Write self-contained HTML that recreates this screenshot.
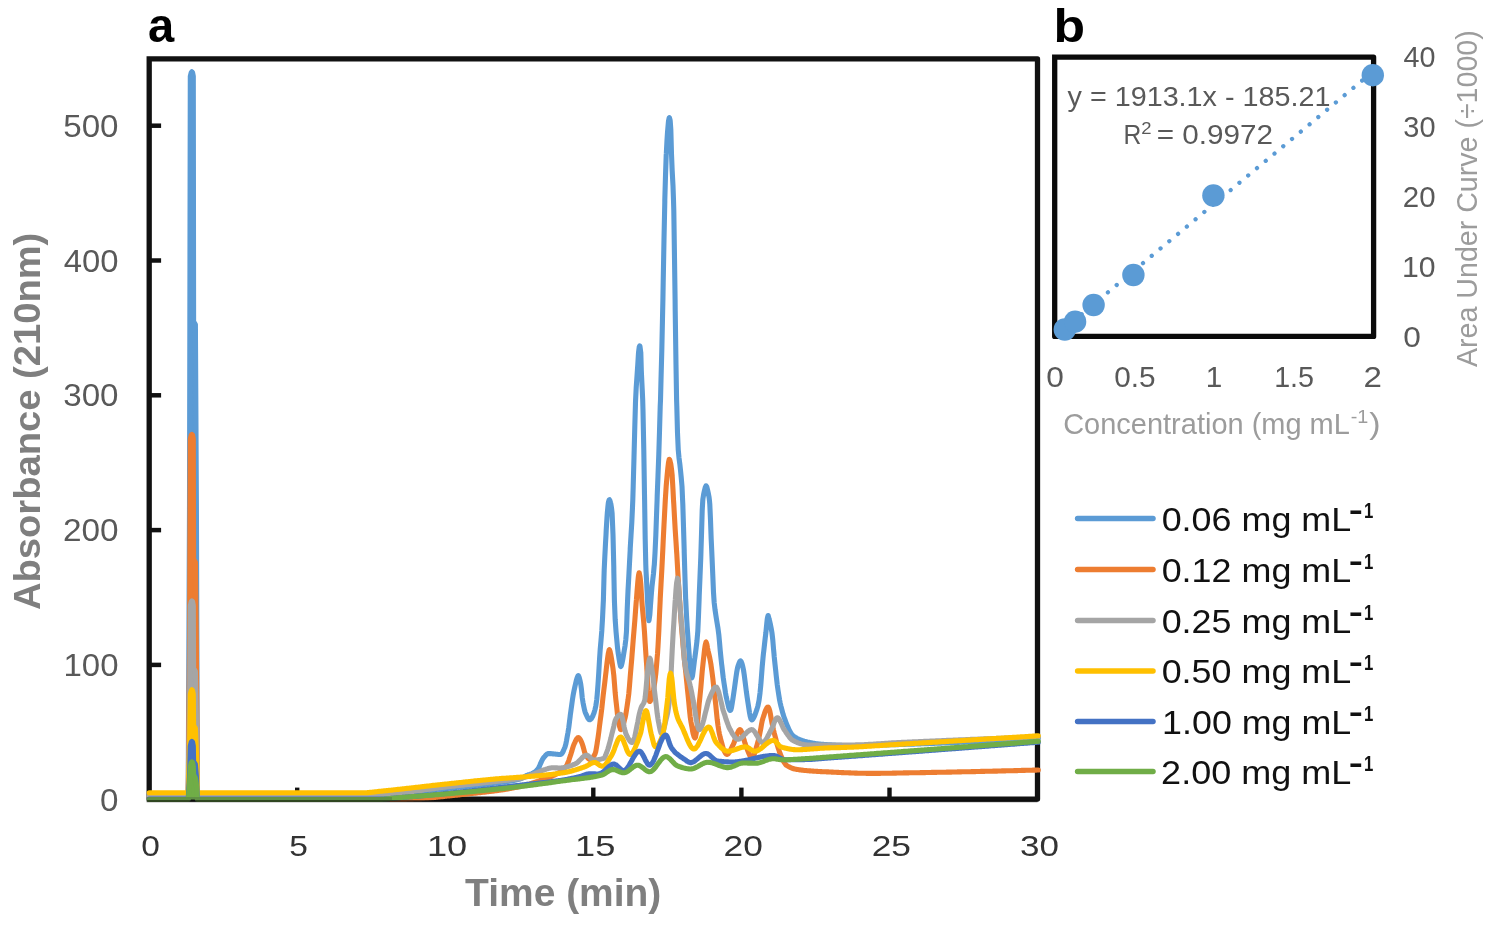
<!DOCTYPE html>
<html lang="en">
<head>
<meta charset="utf-8">
<title>HPLC chromatograms and calibration curve</title>
<style>
html,body{margin:0;padding:0;background:#ffffff;}
body{width:1500px;height:926px;overflow:hidden;font-family:"Liberation Sans",sans-serif;}
svg{display:block;}
svg text,.t{font-family:"Liberation Sans",sans-serif;}
</style>
</head>
<body>
<svg width="1500" height="926" viewBox="0 0 1500 926" role="img" aria-label="HPLC chromatograms at six concentrations with calibration curve inset">
<rect x="0" y="0" width="1500" height="926" fill="#ffffff"/>
<path d="M149.2,58.9 H1037.5 V799.1 H149.2 V58.9" fill="none" stroke="#111111" stroke-width="5.3" stroke-linejoin="round" stroke-linecap="square"/>
<line x1="149.2" y1="664.9" x2="161.1" y2="664.9" stroke="#111111" stroke-width="4.5"/>
<line x1="149.2" y1="530.1" x2="161.1" y2="530.1" stroke="#111111" stroke-width="4.5"/>
<line x1="149.2" y1="395.3" x2="161.1" y2="395.3" stroke="#111111" stroke-width="4.5"/>
<line x1="149.2" y1="260.5" x2="161.1" y2="260.5" stroke="#111111" stroke-width="4.5"/>
<line x1="149.2" y1="125.7" x2="161.1" y2="125.7" stroke="#111111" stroke-width="4.5"/>
<line x1="297.2" y1="799.1" x2="297.2" y2="787.6" stroke="#111111" stroke-width="4.4"/>
<line x1="445.3" y1="799.1" x2="445.3" y2="787.6" stroke="#111111" stroke-width="4.4"/>
<line x1="593.3" y1="799.1" x2="593.3" y2="787.6" stroke="#111111" stroke-width="4.4"/>
<line x1="741.4" y1="799.1" x2="741.4" y2="787.6" stroke="#111111" stroke-width="4.4"/>
<line x1="889.5" y1="799.1" x2="889.5" y2="787.6" stroke="#111111" stroke-width="4.4"/>
<polygon points="188.2,796.0 189.5,506.3 190.3,76.3 191.2,72.6 191.9,71.8 192.6,72.6 193.3,76.3 193.6,321.6 195.4,324.6 196.4,506.3 197.4,796.0" fill="#5B9BD5" stroke="none"/>
<path d="M149.2,796.0 L184.0,796.0 L188.2,796.0 L189.5,506.3 L190.3,76.3 L191.2,72.6 L191.9,71.8 L192.6,72.6 L193.3,76.3 L193.6,321.6 L195.4,324.6 L196.4,506.3 L197.4,796.0 L205.0,796.0 L205.8,796.0 L206.5,796.0 L207.2,796.0 L208.0,796.0 L208.8,796.0 L209.5,796.0 L210.2,796.0 L211.0,796.0 L211.8,796.0 L212.5,796.0 L213.2,796.0 L214.0,796.0 L214.8,796.0 L215.5,796.0 L216.2,796.0 L217.0,796.0 L217.8,796.0 L218.5,796.0 L219.2,796.0 L220.0,796.0 L220.8,796.0 L221.5,796.0 L222.2,796.0 L223.0,796.0 L223.8,796.0 L224.5,796.0 L225.2,796.0 L226.0,796.0 L226.8,796.0 L227.5,796.0 L228.2,796.0 L229.0,796.0 L229.8,796.0 L230.5,796.0 L231.2,796.0 L232.0,796.0 L232.8,796.0 L233.5,796.0 L234.2,796.0 L235.0,796.0 L235.8,796.0 L236.5,796.0 L237.2,796.0 L238.0,796.0 L238.8,796.0 L239.5,796.0 L240.2,796.0 L241.0,796.0 L241.8,796.0 L242.5,796.0 L243.2,796.0 L244.0,796.0 L244.8,796.0 L245.5,796.0 L246.2,796.0 L247.0,796.0 L247.8,796.0 L248.5,796.0 L249.2,796.0 L250.0,796.0 L250.8,796.0 L251.5,796.0 L252.2,796.0 L253.0,796.0 L253.8,796.0 L254.5,796.0 L255.2,796.0 L256.0,796.0 L256.8,796.0 L257.5,796.0 L258.2,796.0 L259.0,796.0 L259.8,796.0 L260.5,796.0 L261.2,796.0 L262.0,796.0 L262.8,796.0 L263.5,796.0 L264.2,796.0 L265.0,796.0 L265.8,796.0 L266.5,796.0 L267.2,796.0 L268.0,796.0 L268.8,796.0 L269.5,796.0 L270.2,796.0 L271.0,796.0 L271.8,796.0 L272.5,796.0 L273.2,796.0 L274.0,796.0 L274.8,796.0 L275.5,796.0 L276.2,796.0 L277.0,796.0 L277.8,796.0 L278.5,796.0 L279.2,796.0 L280.0,796.0 L280.8,796.0 L281.5,796.0 L282.2,796.0 L283.0,796.0 L283.8,796.0 L284.5,796.0 L285.2,796.0 L286.0,796.0 L286.8,796.0 L287.5,796.0 L288.2,796.0 L289.0,796.0 L289.8,796.0 L290.5,796.0 L291.2,796.0 L292.0,796.0 L292.8,796.0 L293.5,796.0 L294.2,796.0 L295.0,796.0 L295.8,796.0 L296.5,796.0 L297.2,796.0 L298.0,796.0 L298.8,796.0 L299.5,796.0 L300.0,796.0 L300.2,796.0 L301.0,796.0 L301.8,796.0 L302.5,796.0 L303.2,796.0 L304.0,796.0 L304.8,796.0 L305.5,796.0 L306.2,796.0 L307.0,796.0 L307.8,796.0 L308.5,796.0 L309.2,796.0 L310.0,796.0 L310.8,796.0 L311.5,796.0 L312.2,796.0 L313.0,796.0 L313.8,796.0 L314.5,795.9 L315.2,795.9 L316.0,795.9 L316.8,795.9 L317.5,795.9 L318.2,795.9 L319.0,795.9 L319.8,795.9 L320.5,795.9 L321.2,795.9 L322.0,795.9 L322.8,795.9 L323.5,795.9 L324.2,795.9 L325.0,795.8 L325.8,795.8 L326.5,795.8 L327.2,795.8 L328.0,795.8 L328.8,795.8 L329.5,795.8 L330.2,795.8 L331.0,795.8 L331.8,795.8 L332.5,795.7 L333.2,795.7 L334.0,795.7 L334.8,795.7 L335.5,795.7 L336.2,795.7 L337.0,795.7 L337.8,795.7 L338.5,795.7 L339.2,795.6 L340.0,795.6 L340.8,795.6 L341.5,795.6 L342.2,795.6 L343.0,795.6 L343.8,795.6 L344.5,795.6 L345.2,795.5 L346.0,795.5 L346.8,795.5 L347.5,795.5 L348.2,795.5 L349.0,795.5 L349.8,795.4 L350.5,795.4 L351.2,795.4 L352.0,795.4 L352.8,795.4 L353.5,795.4 L354.2,795.4 L355.0,795.3 L355.8,795.3 L356.5,795.3 L357.2,795.3 L358.0,795.3 L358.8,795.3 L359.5,795.2 L360.2,795.2 L361.0,795.2 L361.8,795.2 L362.5,795.2 L363.2,795.2 L364.0,795.1 L364.8,795.1 L365.5,795.1 L366.2,795.1 L367.0,795.1 L367.8,795.1 L368.5,795.0 L369.2,795.0 L370.0,795.0 L370.8,795.0 L371.5,795.0 L372.2,794.9 L373.0,794.9 L373.8,794.9 L374.5,794.9 L375.2,794.8 L376.0,794.8 L376.8,794.8 L377.5,794.7 L378.2,794.7 L379.0,794.7 L379.8,794.6 L380.5,794.6 L381.2,794.6 L382.0,794.5 L382.8,794.5 L383.5,794.4 L384.2,794.4 L385.0,794.3 L385.8,794.3 L386.5,794.2 L387.2,794.2 L388.0,794.1 L388.8,794.1 L389.5,794.0 L390.2,794.0 L391.0,793.9 L391.8,793.9 L392.5,793.8 L393.2,793.8 L394.0,793.7 L394.8,793.6 L395.5,793.6 L396.2,793.5 L397.0,793.5 L397.8,793.4 L398.5,793.3 L399.2,793.3 L400.0,793.2 L400.8,793.1 L401.5,793.1 L402.2,793.0 L403.0,792.9 L403.8,792.9 L404.5,792.8 L405.2,792.7 L406.0,792.6 L406.8,792.6 L407.5,792.5 L408.2,792.4 L409.0,792.3 L409.8,792.3 L410.5,792.2 L411.2,792.1 L412.0,792.0 L412.8,792.0 L413.5,791.9 L414.2,791.8 L415.0,791.7 L415.8,791.6 L416.5,791.6 L417.2,791.5 L418.0,791.4 L418.8,791.3 L419.5,791.3 L420.2,791.2 L421.0,791.1 L421.8,791.0 L422.5,790.9 L423.2,790.8 L424.0,790.8 L424.8,790.7 L425.5,790.6 L426.2,790.5 L427.0,790.4 L427.8,790.4 L428.5,790.3 L429.2,790.2 L430.0,790.1 L430.8,790.0 L431.5,789.9 L432.2,789.9 L433.0,789.8 L433.8,789.7 L434.5,789.6 L435.2,789.5 L436.0,789.5 L436.8,789.4 L437.5,789.3 L438.2,789.2 L439.0,789.1 L439.8,789.1 L440.5,789.0 L441.2,788.9 L442.0,788.8 L442.8,788.7 L443.5,788.7 L444.2,788.6 L445.0,788.5 L445.8,788.4 L446.5,788.4 L447.2,788.3 L448.0,788.2 L448.8,788.1 L449.5,788.0 L450.0,788.0 L450.2,788.0 L451.0,787.9 L451.8,787.8 L452.5,787.8 L453.2,787.7 L454.0,787.6 L454.8,787.5 L455.5,787.5 L456.2,787.4 L457.0,787.3 L457.8,787.2 L458.5,787.2 L459.2,787.1 L460.0,787.0 L460.8,786.9 L461.5,786.9 L462.2,786.8 L463.0,786.7 L463.8,786.7 L464.5,786.6 L465.2,786.5 L466.0,786.4 L466.8,786.4 L467.5,786.3 L468.2,786.2 L469.0,786.1 L469.8,786.1 L470.5,786.0 L471.2,785.9 L472.0,785.8 L472.8,785.7 L473.5,785.7 L474.2,785.6 L475.0,785.5 L475.8,785.4 L476.5,785.3 L477.2,785.3 L478.0,785.2 L478.8,785.1 L479.5,785.0 L480.2,784.9 L481.0,784.9 L481.8,784.8 L482.5,784.7 L483.2,784.6 L484.0,784.5 L484.8,784.4 L485.5,784.3 L486.2,784.3 L487.0,784.2 L487.8,784.1 L488.5,784.0 L489.2,783.9 L490.0,783.8 L490.8,783.7 L491.5,783.6 L492.2,783.5 L493.0,783.4 L493.8,783.3 L494.5,783.2 L495.2,783.1 L496.0,783.0 L496.8,782.9 L497.5,782.8 L498.2,782.7 L499.0,782.6 L499.8,782.5 L500.0,782.5 L500.5,782.4 L501.2,782.3 L502.0,782.2 L502.8,782.1 L503.5,782.0 L504.2,781.9 L505.0,781.8 L505.8,781.7 L506.5,781.6 L507.2,781.5 L508.0,781.4 L508.8,781.3 L509.5,781.2 L510.2,781.1 L511.0,781.0 L511.8,780.8 L512.5,780.7 L513.2,780.6 L514.0,780.4 L514.8,780.3 L515.5,780.1 L516.2,780.0 L517.0,779.8 L517.8,779.6 L518.5,779.4 L519.2,779.2 L520.0,779.0 L520.8,778.7 L521.5,778.4 L522.2,778.0 L523.0,777.6 L523.8,777.1 L524.5,776.6 L525.2,776.2 L526.0,775.8 L526.8,775.4 L527.0,775.3 L527.5,775.1 L528.2,774.8 L529.0,774.6 L529.8,774.4 L530.5,774.1 L531.2,773.9 L532.0,773.6 L532.4,773.4 L532.8,773.2 L533.5,772.8 L534.2,772.3 L535.0,771.8 L535.8,771.2 L536.5,770.5 L537.2,769.7 L537.8,769.1 L538.0,768.9 L538.8,767.6 L539.5,766.1 L540.2,764.4 L541.0,762.6 L541.8,760.8 L542.5,759.4 L543.2,758.3 L543.2,758.2 L544.0,757.3 L544.8,756.4 L545.5,755.5 L546.2,754.7 L547.0,754.1 L547.8,753.7 L548.5,753.5 L548.6,753.5 L549.2,753.5 L550.0,753.6 L550.8,753.6 L551.5,753.7 L552.2,753.8 L553.0,753.9 L553.8,754.0 L554.0,754.0 L554.5,754.0 L555.2,754.1 L556.0,754.2 L556.8,754.3 L557.5,754.3 L558.2,754.4 L559.0,754.5 L559.8,754.5 L560.5,754.5 L561.2,754.2 L562.0,753.4 L562.8,752.1 L563.5,750.6 L564.2,748.9 L564.8,747.5 L565.0,747.0 L565.8,744.3 L566.5,740.8 L567.2,736.7 L568.0,732.4 L568.8,727.4 L569.5,721.6 L570.2,716.2 L570.2,715.8 L571.0,710.1 L571.8,704.4 L572.4,700.0 L572.5,699.4 L573.2,694.9 L574.0,690.8 L574.8,687.1 L575.5,684.0 L576.2,681.0 L577.0,678.1 L577.8,676.1 L578.3,675.6 L578.5,675.7 L579.2,677.4 L580.0,680.6 L580.8,684.6 L581.0,686.0 L581.5,689.9 L582.2,697.3 L582.6,700.0 L583.0,702.4 L583.8,706.4 L584.5,709.8 L585.2,712.3 L585.5,713.0 L586.0,714.2 L586.8,715.9 L587.5,717.4 L588.2,718.6 L589.0,719.5 L589.8,719.8 L589.8,719.8 L590.5,719.5 L591.2,718.8 L592.0,717.5 L592.8,716.0 L593.5,714.2 L594.0,713.0 L594.2,712.3 L595.0,709.6 L595.8,706.0 L596.5,701.4 L596.7,700.0 L597.2,694.8 L598.0,684.4 L598.8,672.1 L599.5,659.8 L599.9,654.0 L600.2,649.5 L601.0,640.5 L601.8,630.7 L602.0,627.0 L602.5,618.9 L603.2,603.8 L603.4,600.0 L604.0,576.7 L604.2,570.0 L604.8,557.1 L605.5,543.4 L606.0,534.8 L606.2,530.3 L607.0,517.4 L607.3,513.2 L607.8,507.7 L608.3,503.0 L608.5,502.1 L609.2,499.8 L609.4,499.7 L610.0,500.8 L610.6,503.0 L610.8,503.6 L611.5,507.8 L612.1,513.2 L612.2,515.3 L613.0,534.8 L613.8,567.6 L613.8,570.0 L614.4,600.0 L614.5,602.9 L615.2,619.8 L616.0,631.1 L616.1,632.4 L616.8,640.1 L617.5,647.4 L618.2,653.3 L618.5,655.0 L619.0,658.4 L619.8,663.2 L620.5,666.2 L620.8,666.5 L621.2,666.0 L622.0,663.3 L622.8,659.3 L623.5,655.0 L624.2,650.9 L625.0,646.1 L625.8,639.8 L626.4,632.4 L626.5,630.8 L627.2,609.7 L627.6,600.0 L628.0,591.2 L628.8,576.6 L629.5,563.0 L630.2,550.0 L630.2,549.0 L631.0,535.6 L631.8,522.3 L632.5,507.1 L632.8,500.0 L633.2,486.5 L634.0,457.4 L634.8,426.7 L635.5,402.3 L635.6,400.0 L636.2,387.7 L637.0,376.3 L637.4,370.2 L637.8,364.3 L638.5,352.9 L638.6,352.0 L639.2,347.2 L639.7,345.8 L640.0,346.5 L640.7,352.0 L640.8,352.7 L641.3,370.2 L641.5,374.9 L642.2,389.1 L642.7,400.0 L643.0,410.9 L643.8,450.2 L644.5,494.5 L644.6,500.0 L645.2,539.0 L645.8,565.0 L646.0,570.5 L646.8,585.4 L646.8,586.4 L647.5,600.0 L648.2,614.2 L648.9,620.6 L649.0,620.5 L649.8,615.0 L650.5,605.0 L650.9,600.0 L651.2,595.7 L652.0,586.4 L652.8,579.5 L653.5,573.5 L654.2,565.6 L654.3,565.0 L655.0,553.1 L655.8,535.8 L656.5,516.0 L657.1,500.0 L657.2,496.1 L658.0,475.8 L658.8,454.4 L659.5,431.5 L660.2,406.9 L660.5,400.0 L661.0,380.1 L661.8,350.4 L662.5,318.2 L662.9,300.0 L663.2,282.3 L664.0,239.5 L664.8,202.0 L664.8,200.0 L665.5,175.6 L666.2,155.1 L666.3,154.0 L667.0,140.2 L667.5,132.4 L667.8,128.9 L668.5,121.0 L669.2,117.7 L669.4,117.6 L670.0,119.7 L670.2,121.0 L670.8,129.1 L670.9,132.4 L671.5,154.0 L672.2,171.1 L673.0,185.9 L673.5,200.0 L673.8,210.5 L674.5,258.0 L675.1,300.0 L675.2,310.1 L676.0,365.0 L676.6,400.0 L676.8,406.2 L677.5,432.8 L678.2,448.6 L678.2,449.3 L679.0,457.8 L679.8,463.8 L680.5,470.2 L681.2,477.3 L682.0,486.4 L682.6,500.0 L682.8,504.0 L683.5,526.9 L684.2,550.0 L684.2,551.6 L685.0,578.6 L685.7,600.0 L685.8,601.1 L686.5,615.5 L687.2,627.2 L687.6,632.4 L688.0,638.5 L688.8,649.6 L689.5,658.9 L689.6,660.0 L690.2,667.1 L691.0,674.5 L691.8,678.0 L691.8,678.0 L692.5,676.0 L693.2,670.7 L694.0,664.1 L694.5,660.0 L694.8,658.2 L695.5,652.9 L696.2,647.4 L697.0,640.6 L697.7,632.4 L697.8,631.7 L698.5,615.6 L699.1,600.0 L699.2,596.3 L700.0,576.9 L700.8,556.8 L701.0,550.0 L701.5,534.4 L702.2,510.5 L702.8,500.0 L703.0,498.3 L703.8,493.5 L704.5,490.4 L704.6,490.0 L705.2,487.5 L706.0,485.8 L706.1,485.8 L706.8,486.9 L707.5,489.6 L707.6,490.0 L708.2,492.7 L709.0,496.9 L709.4,500.0 L709.8,504.3 L710.5,520.0 L711.2,539.3 L711.7,550.0 L712.0,556.9 L712.8,575.5 L713.5,592.3 L714.0,600.0 L714.2,602.7 L715.0,609.5 L715.8,614.8 L716.5,619.3 L717.2,623.6 L718.0,628.5 L718.5,632.4 L718.8,634.6 L719.5,642.1 L720.2,650.3 L721.0,658.3 L721.7,664.8 L721.8,665.2 L722.5,671.4 L723.2,677.4 L724.0,683.0 L724.8,688.2 L725.5,692.9 L726.2,696.9 L726.5,698.0 L727.0,700.3 L727.8,703.6 L728.5,706.7 L729.2,709.1 L730.0,710.4 L730.3,710.5 L730.8,710.0 L731.5,707.5 L732.2,703.4 L733.0,698.3 L733.8,692.9 L734.5,688.0 L735.2,682.8 L736.0,677.0 L736.8,671.7 L737.5,668.0 L738.2,665.5 L739.0,663.3 L739.8,661.6 L740.5,660.9 L740.6,660.9 L741.2,661.6 L742.0,663.7 L742.8,666.7 L743.5,670.0 L744.2,674.6 L745.0,680.8 L745.8,687.2 L746.4,692.0 L746.5,692.6 L747.2,697.6 L748.0,702.9 L748.8,708.0 L749.5,712.6 L750.2,716.3 L751.0,718.9 L751.8,719.9 L751.8,719.9 L752.5,719.6 L753.2,718.6 L754.0,717.1 L754.8,715.3 L755.5,713.3 L756.0,712.0 L756.2,711.3 L757.0,709.1 L757.8,706.4 L758.5,703.1 L759.1,700.0 L759.2,699.1 L760.0,693.1 L760.8,685.1 L761.5,676.0 L762.2,666.7 L763.0,658.0 L763.4,654.0 L763.8,650.8 L764.5,644.4 L765.2,638.1 L765.9,632.4 L766.0,631.4 L766.8,623.3 L767.2,619.5 L767.5,617.7 L768.1,615.5 L768.2,615.6 L769.0,618.6 L769.2,619.5 L769.8,621.7 L770.5,624.9 L771.2,628.5 L771.9,632.4 L772.0,633.1 L772.8,640.1 L773.5,648.6 L774.0,654.0 L774.2,656.5 L775.0,664.2 L775.8,671.6 L776.2,675.6 L776.5,678.1 L777.2,684.3 L778.0,690.0 L778.8,695.2 L779.5,699.5 L779.6,700.0 L780.2,703.0 L781.0,706.3 L781.8,709.3 L782.5,712.1 L783.2,714.7 L784.0,717.0 L784.8,719.2 L785.5,721.2 L786.2,723.1 L786.4,723.5 L787.0,724.9 L787.8,726.7 L788.5,728.4 L789.2,730.0 L790.0,731.4 L790.8,732.8 L791.5,733.9 L792.2,734.9 L792.9,735.5 L793.0,735.6 L793.8,736.2 L794.5,736.7 L795.2,737.3 L796.0,737.7 L796.8,738.2 L797.5,738.6 L798.2,739.0 L799.0,739.3 L799.8,739.7 L800.5,740.0 L801.2,740.2 L802.0,740.5 L802.8,740.7 L803.5,740.9 L803.7,741.0 L804.2,741.2 L805.0,741.4 L805.8,741.6 L806.5,741.7 L807.2,741.9 L808.0,742.1 L808.8,742.3 L809.5,742.5 L810.2,742.6 L811.0,742.8 L811.8,742.9 L812.5,743.1 L813.2,743.2 L814.0,743.3 L814.8,743.5 L815.5,743.6 L816.2,743.7 L817.0,743.8 L817.8,743.9 L818.5,744.0 L819.2,744.0 L820.0,744.1 L820.8,744.2 L821.0,744.2 L821.5,744.2 L822.2,744.3 L823.0,744.4 L823.8,744.4 L824.5,744.5 L825.2,744.5 L826.0,744.6 L826.8,744.6 L827.5,744.7 L828.2,744.7 L829.0,744.8 L829.8,744.8 L830.5,744.9 L831.2,744.9 L832.0,745.0 L832.8,745.0 L833.5,745.1 L834.2,745.1 L835.0,745.1 L835.8,745.2 L836.5,745.2 L837.2,745.3 L838.0,745.3 L838.8,745.3 L839.5,745.4 L840.2,745.4 L841.0,745.4 L841.8,745.4 L842.5,745.5 L843.2,745.5 L844.0,745.5 L844.8,745.5 L845.5,745.5 L846.2,745.6 L847.0,745.6 L847.8,745.6 L848.5,745.6 L849.2,745.6 L850.0,745.6 L850.8,745.6 L851.0,745.6 L851.5,745.6 L852.2,745.6 L853.0,745.6 L853.8,745.6 L854.5,745.6 L855.2,745.6 L856.0,745.6 L856.8,745.6 L857.5,745.6 L858.2,745.6 L859.0,745.6 L859.8,745.5 L860.5,745.5 L861.2,745.5 L862.0,745.5 L862.8,745.5 L863.5,745.5 L864.2,745.5 L865.0,745.5 L865.8,745.5 L866.5,745.4 L867.2,745.4 L868.0,745.4 L868.8,745.4 L869.5,745.4 L870.2,745.4 L871.0,745.3 L871.8,745.3 L872.5,745.3 L873.2,745.3 L874.0,745.3 L874.8,745.2 L875.5,745.2 L876.2,745.2 L877.0,745.2 L877.8,745.2 L878.5,745.1 L879.2,745.1 L880.0,745.1 L880.8,745.1 L881.5,745.1 L882.2,745.0 L883.0,745.0 L883.8,745.0 L884.5,745.0 L885.2,744.9 L886.0,744.9 L886.8,744.9 L887.5,744.9 L888.2,744.9 L889.0,744.8 L889.8,744.8 L890.5,744.8 L891.2,744.8 L892.0,744.7 L892.8,744.7 L893.5,744.7 L894.2,744.7 L895.0,744.6 L895.8,744.6 L896.5,744.6 L897.2,744.6 L898.0,744.6 L898.8,744.5 L899.5,744.5 L900.0,744.5 L900.2,744.5 L901.0,744.5 L901.8,744.4 L902.5,744.4 L903.2,744.4 L904.0,744.4 L904.8,744.4 L905.5,744.3 L906.2,744.3 L907.0,744.3 L907.8,744.3 L908.5,744.2 L909.2,744.2 L910.0,744.2 L910.8,744.2 L911.5,744.2 L912.2,744.1 L913.0,744.1 L913.8,744.1 L914.5,744.1 L915.2,744.0 L916.0,744.0 L916.8,744.0 L917.5,744.0 L918.2,743.9 L919.0,743.9 L919.8,743.9 L920.5,743.9 L921.2,743.8 L922.0,743.8 L922.8,743.8 L923.5,743.8 L924.2,743.7 L925.0,743.7 L925.8,743.7 L926.5,743.6 L927.2,743.6 L928.0,743.6 L928.8,743.6 L929.5,743.5 L930.2,743.5 L931.0,743.5 L931.8,743.5 L932.5,743.4 L933.2,743.4 L934.0,743.4 L934.8,743.3 L935.5,743.3 L936.2,743.3 L937.0,743.3 L937.8,743.2 L938.5,743.2 L939.2,743.2 L940.0,743.1 L940.8,743.1 L941.5,743.1 L942.2,743.0 L943.0,743.0 L943.8,743.0 L944.5,743.0 L945.2,742.9 L946.0,742.9 L946.8,742.9 L947.5,742.8 L948.2,742.8 L949.0,742.8 L949.8,742.7 L950.5,742.7 L951.2,742.7 L952.0,742.6 L952.8,742.6 L953.5,742.6 L954.2,742.6 L955.0,742.5 L955.8,742.5 L956.5,742.5 L957.2,742.4 L958.0,742.4 L958.8,742.4 L959.5,742.3 L960.2,742.3 L961.0,742.3 L961.8,742.2 L962.5,742.2 L963.2,742.2 L964.0,742.1 L964.8,742.1 L965.5,742.0 L966.2,742.0 L967.0,742.0 L967.8,741.9 L968.5,741.9 L969.2,741.9 L970.0,741.8 L970.8,741.8 L971.5,741.8 L972.2,741.7 L973.0,741.7 L973.8,741.7 L974.5,741.6 L975.2,741.6 L976.0,741.6 L976.8,741.5 L977.5,741.5 L978.2,741.4 L979.0,741.4 L979.8,741.4 L980.5,741.3 L981.2,741.3 L982.0,741.3 L982.8,741.2 L983.5,741.2 L984.2,741.1 L985.0,741.1 L985.8,741.1 L986.5,741.0 L987.2,741.0 L988.0,740.9 L988.8,740.9 L989.5,740.9 L990.2,740.8 L991.0,740.8 L991.8,740.7 L992.5,740.7 L993.2,740.7 L994.0,740.6 L994.8,740.6 L995.5,740.5 L996.2,740.5 L997.0,740.5 L997.8,740.4 L998.5,740.4 L999.2,740.3 L1000.0,740.3 L1000.8,740.3 L1001.5,740.2 L1002.2,740.2 L1003.0,740.1 L1003.8,740.1 L1004.5,740.1 L1005.2,740.0 L1006.0,740.0 L1006.8,739.9 L1007.5,739.9 L1008.2,739.8 L1009.0,739.8 L1009.8,739.8 L1010.5,739.7 L1011.2,739.7 L1012.0,739.6 L1012.8,739.6 L1013.5,739.5 L1014.2,739.5 L1015.0,739.4 L1015.8,739.4 L1016.5,739.4 L1017.2,739.3 L1018.0,739.3 L1018.8,739.2 L1019.5,739.2 L1020.2,739.1 L1021.0,739.1 L1021.8,739.0 L1022.5,739.0 L1023.2,739.0 L1024.0,738.9 L1024.8,738.9 L1025.5,738.8 L1026.2,738.8 L1027.0,738.7 L1027.8,738.7 L1028.5,738.6 L1029.2,738.6 L1030.0,738.5 L1030.8,738.5 L1031.5,738.4 L1032.2,738.4 L1033.0,738.3 L1033.8,738.3 L1034.5,738.2 L1035.2,738.2 L1036.0,738.1 L1036.8,738.1 L1037.5,738.1 L1038.2,738.0 L1038.3,738.0" fill="none" stroke="#5B9BD5" stroke-width="5.1" stroke-linejoin="round" stroke-linecap="round"/>
<polygon points="188.2,796.5 189.5,651.7 190.3,439.0 191.2,435.3 191.9,434.5 192.6,435.3 193.3,439.0 193.6,559.4 195.4,562.4 196.4,651.7 197.4,796.5" fill="#ED7D31" stroke="none"/>
<path d="M149.2,796.5 L184.0,796.5 L188.2,796.5 L189.5,651.7 L190.3,439.0 L191.2,435.3 L191.9,434.5 L192.6,435.3 L193.3,439.0 L193.6,559.4 L195.4,562.4 L196.4,651.7 L197.4,796.5 L205.0,796.5 L205.8,796.5 L206.5,796.5 L207.2,796.5 L208.0,796.5 L208.8,796.5 L209.5,796.5 L210.2,796.5 L211.0,796.5 L211.8,796.5 L212.5,796.5 L213.2,796.5 L214.0,796.5 L214.8,796.5 L215.5,796.5 L216.2,796.5 L217.0,796.5 L217.8,796.5 L218.5,796.5 L219.2,796.5 L220.0,796.5 L220.8,796.5 L221.5,796.5 L222.2,796.5 L223.0,796.5 L223.8,796.5 L224.5,796.5 L225.2,796.5 L226.0,796.5 L226.8,796.5 L227.5,796.5 L228.2,796.5 L229.0,796.5 L229.8,796.5 L230.5,796.5 L231.2,796.5 L232.0,796.5 L232.8,796.5 L233.5,796.5 L234.2,796.5 L235.0,796.5 L235.8,796.5 L236.5,796.5 L237.2,796.5 L238.0,796.5 L238.8,796.5 L239.5,796.5 L240.2,796.5 L241.0,796.5 L241.8,796.5 L242.5,796.5 L243.2,796.5 L244.0,796.5 L244.8,796.5 L245.5,796.5 L246.2,796.5 L247.0,796.5 L247.8,796.5 L248.5,796.5 L249.2,796.5 L250.0,796.5 L250.8,796.5 L251.5,796.5 L252.2,796.5 L253.0,796.5 L253.8,796.5 L254.5,796.5 L255.2,796.5 L256.0,796.5 L256.8,796.5 L257.5,796.5 L258.2,796.5 L259.0,796.5 L259.8,796.5 L260.5,796.5 L261.2,796.5 L262.0,796.5 L262.8,796.5 L263.5,796.5 L264.2,796.5 L265.0,796.5 L265.8,796.5 L266.5,796.5 L267.2,796.5 L268.0,796.5 L268.8,796.5 L269.5,796.5 L270.2,796.5 L271.0,796.5 L271.8,796.5 L272.5,796.5 L273.2,796.5 L274.0,796.5 L274.8,796.5 L275.5,796.5 L276.2,796.5 L277.0,796.5 L277.8,796.5 L278.5,796.5 L279.2,796.5 L280.0,796.5 L280.8,796.5 L281.5,796.5 L282.2,796.5 L283.0,796.5 L283.8,796.5 L284.5,796.5 L285.2,796.5 L286.0,796.5 L286.8,796.5 L287.5,796.5 L288.2,796.5 L289.0,796.5 L289.8,796.5 L290.5,796.5 L291.2,796.5 L292.0,796.5 L292.8,796.5 L293.5,796.5 L294.2,796.5 L295.0,796.5 L295.8,796.5 L296.5,796.5 L297.2,796.5 L298.0,796.5 L298.8,796.5 L299.5,796.5 L300.0,796.5 L300.2,796.5 L301.0,796.5 L301.8,796.5 L302.5,796.5 L303.2,796.5 L304.0,796.5 L304.8,796.5 L305.5,796.5 L306.2,796.5 L307.0,796.5 L307.8,796.5 L308.5,796.5 L309.2,796.5 L310.0,796.5 L310.8,796.5 L311.5,796.5 L312.2,796.5 L313.0,796.5 L313.8,796.5 L314.5,796.5 L315.2,796.6 L316.0,796.6 L316.8,796.6 L317.5,796.6 L318.2,796.6 L319.0,796.6 L319.8,796.6 L320.5,796.6 L321.2,796.6 L322.0,796.6 L322.8,796.6 L323.5,796.6 L324.2,796.6 L325.0,796.6 L325.8,796.6 L326.5,796.7 L327.2,796.7 L328.0,796.7 L328.8,796.7 L329.5,796.7 L330.2,796.7 L331.0,796.7 L331.8,796.7 L332.5,796.7 L333.2,796.7 L334.0,796.8 L334.8,796.8 L335.5,796.8 L336.2,796.8 L337.0,796.8 L337.8,796.8 L338.5,796.8 L339.2,796.8 L340.0,796.8 L340.8,796.9 L341.5,796.9 L342.2,796.9 L343.0,796.9 L343.8,796.9 L344.5,796.9 L345.2,796.9 L346.0,797.0 L346.8,797.0 L347.5,797.0 L348.2,797.0 L349.0,797.0 L349.8,797.0 L350.5,797.0 L351.2,797.1 L352.0,797.1 L352.8,797.1 L353.5,797.1 L354.2,797.1 L355.0,797.1 L355.8,797.2 L356.5,797.2 L357.2,797.2 L358.0,797.2 L358.8,797.2 L359.5,797.2 L360.2,797.3 L361.0,797.3 L361.8,797.3 L362.5,797.3 L363.2,797.3 L364.0,797.3 L364.8,797.4 L365.5,797.4 L366.2,797.4 L367.0,797.4 L367.8,797.4 L368.5,797.5 L369.2,797.5 L370.0,797.5 L370.8,797.5 L371.5,797.6 L372.2,797.6 L373.0,797.6 L373.8,797.7 L374.5,797.7 L375.2,797.8 L376.0,797.8 L376.8,797.9 L377.5,798.0 L378.2,798.0 L379.0,798.1 L379.8,798.2 L380.5,798.2 L381.2,798.3 L382.0,798.4 L382.8,798.5 L383.5,798.5 L384.2,798.6 L385.0,798.7 L385.8,798.7 L386.5,798.8 L387.2,798.9 L388.0,798.9 L388.8,799.0 L389.5,799.0 L390.2,799.1 L391.0,799.1 L391.8,799.1 L392.5,799.2 L393.2,799.2 L394.0,799.2 L394.8,799.2 L395.0,799.2 L395.5,799.2 L396.2,799.2 L397.0,799.2 L397.8,799.2 L398.5,799.2 L399.2,799.2 L400.0,799.2 L400.8,799.2 L401.5,799.1 L402.2,799.1 L403.0,799.1 L403.8,799.1 L404.5,799.1 L405.2,799.1 L406.0,799.1 L406.8,799.0 L407.5,799.0 L408.2,799.0 L409.0,799.0 L409.8,799.0 L410.5,798.9 L411.2,798.9 L412.0,798.9 L412.8,798.9 L413.5,798.8 L414.2,798.8 L415.0,798.8 L415.8,798.8 L416.5,798.7 L417.2,798.7 L418.0,798.7 L418.8,798.6 L419.5,798.6 L420.0,798.6 L420.2,798.6 L421.0,798.6 L421.8,798.5 L422.5,798.5 L423.2,798.4 L424.0,798.4 L424.8,798.3 L425.5,798.3 L426.2,798.2 L427.0,798.2 L427.8,798.1 L428.5,798.1 L429.2,798.0 L430.0,797.9 L430.8,797.9 L431.5,797.8 L432.2,797.7 L433.0,797.6 L433.8,797.6 L434.5,797.5 L435.2,797.4 L436.0,797.3 L436.8,797.2 L437.5,797.2 L438.2,797.1 L439.0,797.0 L439.8,796.9 L440.5,796.8 L441.2,796.7 L442.0,796.7 L442.8,796.6 L443.5,796.5 L444.2,796.4 L445.0,796.3 L445.8,796.2 L446.5,796.2 L447.2,796.1 L448.0,796.0 L448.8,795.9 L449.5,795.9 L450.0,795.8 L450.2,795.8 L451.0,795.7 L451.8,795.6 L452.5,795.5 L453.2,795.5 L454.0,795.4 L454.8,795.3 L455.5,795.2 L456.2,795.2 L457.0,795.1 L457.8,795.0 L458.5,794.9 L459.2,794.9 L460.0,794.8 L460.8,794.7 L461.5,794.6 L462.2,794.5 L463.0,794.5 L463.8,794.4 L464.5,794.3 L465.2,794.2 L466.0,794.1 L466.8,794.1 L467.5,794.0 L468.2,793.9 L469.0,793.8 L469.8,793.7 L470.5,793.7 L471.2,793.6 L472.0,793.5 L472.8,793.4 L473.5,793.3 L474.2,793.2 L475.0,793.2 L475.8,793.1 L476.5,793.0 L477.2,792.9 L478.0,792.8 L478.8,792.7 L479.5,792.7 L480.0,792.6 L480.2,792.6 L481.0,792.5 L481.8,792.4 L482.5,792.3 L483.2,792.2 L484.0,792.2 L484.8,792.1 L485.5,792.0 L486.2,791.9 L487.0,791.8 L487.8,791.7 L488.5,791.7 L489.2,791.6 L490.0,791.5 L490.8,791.4 L491.5,791.3 L492.2,791.2 L493.0,791.1 L493.8,791.0 L494.5,790.9 L495.2,790.8 L496.0,790.7 L496.8,790.7 L497.5,790.6 L498.2,790.4 L499.0,790.3 L499.8,790.2 L500.0,790.2 L500.5,790.1 L501.2,790.0 L502.0,789.9 L502.8,789.8 L503.5,789.7 L504.2,789.5 L505.0,789.4 L505.8,789.3 L506.5,789.2 L507.2,789.0 L508.0,788.9 L508.8,788.8 L509.5,788.6 L510.2,788.5 L511.0,788.4 L511.8,788.2 L512.5,788.1 L513.2,787.9 L514.0,787.8 L514.8,787.6 L515.5,787.5 L516.2,787.3 L517.0,787.2 L517.8,787.0 L518.5,786.8 L519.2,786.7 L520.0,786.5 L520.8,786.3 L521.5,786.1 L522.2,786.0 L523.0,785.8 L523.8,785.6 L524.5,785.4 L525.2,785.2 L526.0,785.0 L526.8,784.8 L527.5,784.5 L528.2,784.3 L529.0,784.1 L529.8,783.9 L530.5,783.7 L531.2,783.4 L532.0,783.2 L532.8,782.9 L533.5,782.7 L534.2,782.5 L535.0,782.2 L535.8,782.0 L536.5,781.7 L537.2,781.5 L538.0,781.2 L538.8,780.9 L539.5,780.7 L540.0,780.5 L540.2,780.4 L541.0,780.2 L541.8,779.9 L542.5,779.6 L543.2,779.4 L544.0,779.1 L544.8,778.9 L545.5,778.6 L546.2,778.4 L547.0,778.1 L547.8,777.8 L548.5,777.5 L549.2,777.3 L550.0,777.0 L550.8,776.7 L551.5,776.4 L552.2,776.1 L553.0,775.7 L553.8,775.4 L554.5,775.1 L555.2,774.7 L556.0,774.3 L556.8,773.9 L557.5,773.5 L558.2,773.1 L559.0,772.6 L559.8,772.2 L560.0,772.0 L560.5,771.7 L561.2,771.1 L562.0,770.6 L562.8,769.9 L563.5,769.2 L564.2,768.4 L565.0,767.6 L565.8,766.6 L566.5,765.6 L567.0,764.8 L567.2,764.4 L568.0,762.7 L568.8,760.6 L569.5,758.3 L570.2,756.2 L570.2,756.1 L571.0,753.8 L571.8,751.3 L572.5,748.7 L573.2,746.4 L574.0,744.3 L574.5,743.2 L574.8,742.7 L575.5,741.1 L576.2,739.7 L577.0,738.5 L577.8,737.7 L578.3,737.5 L578.5,737.5 L579.2,738.1 L580.0,739.1 L580.8,740.5 L581.5,742.1 L582.0,743.2 L582.2,743.8 L583.0,746.2 L583.8,749.1 L584.5,751.9 L585.2,753.9 L585.3,754.0 L586.0,755.2 L586.8,756.5 L587.5,757.6 L588.2,758.5 L589.0,759.2 L589.8,759.5 L590.0,759.5 L590.5,759.4 L591.2,759.1 L592.0,758.5 L592.8,757.7 L593.5,756.6 L594.2,755.4 L595.0,754.0 L595.8,751.4 L596.5,747.4 L597.2,743.2 L597.2,742.9 L598.0,737.8 L598.8,732.0 L599.4,727.0 L599.5,726.2 L600.2,720.6 L601.0,714.9 L601.5,710.8 L601.8,708.6 L602.5,701.8 L602.7,700.0 L603.2,695.2 L604.0,688.7 L604.8,682.3 L605.5,676.0 L606.2,670.2 L606.2,669.8 L607.0,663.1 L607.8,656.8 L608.2,654.0 L608.5,652.5 L609.2,649.7 L609.4,649.6 L610.0,651.1 L610.6,654.0 L610.8,654.7 L611.5,658.6 L612.2,663.2 L613.0,668.6 L613.2,670.2 L613.8,675.3 L614.5,684.0 L615.2,693.1 L615.9,700.0 L616.0,700.9 L616.8,708.0 L617.5,714.7 L618.2,720.1 L618.6,722.0 L619.0,723.9 L619.8,727.3 L620.5,729.4 L620.8,729.6 L621.2,729.4 L622.0,728.1 L622.8,726.1 L623.5,723.7 L624.0,722.0 L624.2,721.1 L625.0,718.1 L625.8,714.4 L626.5,710.1 L627.2,705.3 L628.0,700.0 L628.8,693.6 L629.5,685.7 L630.2,676.9 L631.0,667.5 L631.8,658.2 L632.1,654.0 L632.5,649.2 L633.2,640.0 L634.0,630.5 L634.8,620.9 L635.5,611.3 L636.2,601.9 L636.4,600.0 L637.0,592.0 L637.8,582.3 L638.2,578.0 L638.5,575.6 L639.1,572.8 L639.2,572.9 L640.0,576.6 L640.2,578.0 L640.8,584.0 L641.5,595.7 L641.8,600.0 L642.2,605.6 L643.0,614.3 L643.8,622.9 L644.5,632.4 L645.2,643.7 L646.0,655.9 L646.8,667.3 L646.8,668.0 L647.5,678.6 L648.2,690.2 L649.0,698.9 L649.6,701.5 L649.8,701.5 L650.5,700.7 L651.2,698.9 L652.0,696.3 L652.8,693.3 L653.5,690.0 L654.2,685.9 L655.0,680.5 L655.8,673.8 L656.5,666.0 L657.2,657.1 L657.5,654.0 L658.0,646.4 L658.8,631.5 L659.5,614.8 L660.2,600.0 L660.2,599.0 L661.0,584.5 L661.8,570.2 L662.5,555.8 L662.8,550.0 L663.2,540.9 L664.0,524.9 L664.8,509.7 L665.3,500.0 L665.5,496.9 L666.2,486.0 L667.0,476.7 L667.1,475.6 L667.8,468.5 L668.5,462.5 L669.2,459.4 L669.4,459.3 L670.0,460.8 L670.4,462.5 L670.8,464.2 L671.5,469.1 L672.2,475.6 L672.2,476.2 L673.0,489.9 L673.5,500.0 L673.8,504.4 L674.5,517.2 L675.2,529.6 L676.0,541.8 L676.5,550.0 L676.8,554.1 L677.5,566.6 L678.2,579.0 L679.0,591.0 L679.6,600.0 L679.8,602.2 L680.5,612.9 L681.2,623.2 L682.0,633.0 L682.8,642.1 L683.0,645.0 L683.5,650.5 L684.2,658.3 L685.0,665.7 L685.8,672.8 L686.5,679.8 L687.2,686.4 L687.2,686.9 L688.0,694.5 L688.8,702.4 L689.5,710.1 L690.2,716.8 L691.0,722.0 L691.8,726.3 L692.5,730.4 L693.2,733.9 L694.0,736.6 L694.8,737.9 L695.0,738.0 L695.5,737.2 L696.2,733.4 L697.0,727.3 L697.8,719.7 L698.5,711.5 L699.2,703.4 L699.6,700.0 L700.0,696.1 L700.8,688.1 L701.5,679.7 L702.2,671.4 L702.9,664.8 L703.0,663.8 L703.8,656.5 L704.5,650.0 L704.8,648.0 L705.2,645.2 L706.0,642.1 L706.1,642.0 L706.8,644.0 L707.5,648.0 L708.2,651.3 L709.0,654.6 L709.8,658.1 L710.5,661.9 L711.0,664.8 L711.2,666.4 L712.0,672.0 L712.8,678.3 L713.5,684.7 L713.7,686.4 L714.2,691.1 L715.0,698.1 L715.8,705.3 L716.5,712.6 L717.2,719.4 L718.0,725.6 L718.8,730.7 L719.4,734.0 L719.5,734.4 L720.2,737.5 L721.0,740.5 L721.8,743.3 L722.5,745.9 L723.2,748.3 L724.0,750.4 L724.8,752.0 L725.5,753.3 L726.2,754.1 L727.0,754.4 L727.8,754.1 L728.5,753.4 L729.2,752.4 L730.0,751.1 L730.8,749.6 L731.5,748.0 L732.2,746.5 L733.0,745.0 L733.8,743.4 L734.5,741.5 L735.2,739.4 L736.0,737.2 L736.8,735.0 L737.5,733.0 L738.2,731.4 L739.0,730.2 L739.8,729.6 L740.0,729.6 L740.5,729.8 L741.2,731.0 L742.0,732.8 L742.8,735.2 L743.5,737.9 L744.2,740.6 L745.0,743.2 L745.8,745.4 L746.0,746.0 L746.5,747.2 L747.2,749.2 L748.0,751.2 L748.8,753.2 L749.5,754.9 L750.2,756.3 L751.0,757.3 L751.8,757.7 L751.8,757.7 L752.5,757.4 L753.2,756.4 L754.0,754.8 L754.8,752.8 L755.5,750.4 L756.2,747.8 L757.0,745.1 L757.8,742.3 L758.3,740.4 L758.5,739.7 L759.2,736.4 L760.0,732.5 L760.8,728.4 L761.5,724.4 L762.2,720.8 L763.0,718.0 L763.8,715.7 L764.5,713.4 L765.2,711.3 L766.0,709.4 L766.8,708.0 L767.5,707.2 L768.0,707.0 L768.2,707.1 L769.0,708.5 L769.8,711.1 L770.5,714.6 L771.2,718.7 L772.0,722.9 L772.8,726.7 L773.4,729.6 L773.5,730.0 L774.2,732.9 L775.0,735.9 L775.8,738.9 L776.5,741.9 L777.2,744.7 L778.0,747.4 L778.8,749.8 L779.5,752.0 L780.0,753.3 L780.2,753.9 L781.0,755.7 L781.8,757.5 L782.5,759.2 L783.2,760.8 L784.0,762.2 L784.8,763.4 L785.5,764.4 L786.2,765.1 L786.4,765.2 L787.0,765.6 L787.8,766.1 L788.5,766.5 L789.2,766.9 L790.0,767.3 L790.8,767.7 L791.5,768.0 L792.2,768.3 L793.0,768.5 L793.8,768.8 L794.5,769.0 L795.2,769.1 L796.0,769.3 L796.8,769.4 L797.2,769.5 L797.5,769.5 L798.2,769.6 L799.0,769.8 L799.8,769.9 L800.5,769.9 L801.2,770.0 L802.0,770.1 L802.8,770.2 L803.5,770.3 L804.2,770.4 L805.0,770.5 L805.8,770.5 L806.5,770.6 L807.2,770.7 L808.0,770.7 L808.8,770.8 L809.5,770.9 L810.2,770.9 L811.0,771.0 L811.8,771.0 L812.5,771.1 L813.2,771.1 L814.0,771.2 L814.8,771.2 L815.5,771.3 L816.2,771.3 L817.0,771.4 L817.8,771.4 L818.5,771.5 L819.2,771.5 L820.0,771.5 L820.8,771.6 L821.5,771.6 L822.2,771.7 L823.0,771.7 L823.8,771.7 L824.5,771.8 L825.2,771.8 L826.0,771.8 L826.8,771.9 L827.5,771.9 L828.2,771.9 L829.0,772.0 L829.6,772.0 L829.8,772.0 L830.5,772.0 L831.2,772.1 L832.0,772.1 L832.8,772.1 L833.5,772.2 L834.2,772.2 L835.0,772.3 L835.8,772.3 L836.5,772.3 L837.2,772.4 L838.0,772.4 L838.8,772.4 L839.5,772.5 L840.2,772.5 L841.0,772.5 L841.8,772.6 L842.5,772.6 L843.2,772.6 L844.0,772.7 L844.8,772.7 L845.5,772.7 L846.2,772.8 L847.0,772.8 L847.8,772.8 L848.5,772.8 L849.2,772.9 L850.0,772.9 L850.8,772.9 L851.5,773.0 L852.2,773.0 L853.0,773.0 L853.8,773.0 L854.5,773.1 L855.2,773.1 L856.0,773.1 L856.8,773.1 L857.5,773.2 L858.2,773.2 L859.0,773.2 L859.8,773.2 L860.5,773.2 L861.2,773.3 L862.0,773.3 L862.8,773.3 L863.5,773.3 L864.2,773.3 L865.0,773.3 L865.8,773.3 L866.5,773.4 L867.2,773.4 L868.0,773.4 L868.8,773.4 L869.5,773.4 L870.2,773.4 L871.0,773.4 L871.8,773.4 L872.5,773.4 L872.8,773.4 L873.2,773.4 L874.0,773.4 L874.8,773.4 L875.5,773.4 L876.2,773.4 L877.0,773.4 L877.8,773.4 L878.5,773.4 L879.2,773.4 L880.0,773.4 L880.8,773.3 L881.5,773.3 L882.2,773.3 L883.0,773.3 L883.8,773.3 L884.5,773.3 L885.2,773.3 L886.0,773.3 L886.8,773.3 L887.5,773.2 L888.2,773.2 L889.0,773.2 L889.8,773.2 L890.5,773.2 L891.2,773.2 L892.0,773.2 L892.8,773.1 L893.5,773.1 L894.2,773.1 L895.0,773.1 L895.8,773.1 L896.5,773.1 L897.2,773.0 L898.0,773.0 L898.8,773.0 L899.5,773.0 L900.0,773.0 L900.2,773.0 L901.0,773.0 L901.8,773.0 L902.5,773.0 L903.2,772.9 L904.0,772.9 L904.8,772.9 L905.5,772.9 L906.2,772.9 L907.0,772.9 L907.8,772.9 L908.5,772.9 L909.2,772.8 L910.0,772.8 L910.8,772.8 L911.5,772.8 L912.2,772.8 L913.0,772.8 L913.8,772.8 L914.5,772.8 L915.2,772.7 L916.0,772.7 L916.8,772.7 L917.5,772.7 L918.2,772.7 L919.0,772.7 L919.8,772.7 L920.5,772.6 L921.2,772.6 L922.0,772.6 L922.8,772.6 L923.5,772.6 L924.2,772.6 L925.0,772.6 L925.8,772.5 L926.5,772.5 L927.2,772.5 L928.0,772.5 L928.8,772.5 L929.5,772.5 L930.2,772.5 L931.0,772.5 L931.8,772.4 L932.5,772.4 L933.2,772.4 L934.0,772.4 L934.8,772.4 L935.5,772.4 L936.2,772.4 L937.0,772.3 L937.8,772.3 L938.5,772.3 L939.2,772.3 L940.0,772.3 L940.8,772.3 L941.5,772.2 L942.2,772.2 L943.0,772.2 L943.8,772.2 L944.5,772.2 L945.2,772.2 L946.0,772.2 L946.8,772.1 L947.5,772.1 L948.2,772.1 L949.0,772.1 L949.8,772.1 L950.5,772.1 L951.2,772.1 L952.0,772.0 L952.8,772.0 L953.5,772.0 L954.2,772.0 L955.0,772.0 L955.8,772.0 L956.5,772.0 L957.2,771.9 L958.0,771.9 L958.8,771.9 L959.5,771.9 L960.2,771.9 L961.0,771.9 L961.8,771.8 L962.5,771.8 L963.2,771.8 L964.0,771.8 L964.8,771.8 L965.5,771.8 L966.2,771.7 L967.0,771.7 L967.8,771.7 L968.5,771.7 L969.2,771.7 L970.0,771.7 L970.8,771.7 L971.5,771.6 L972.2,771.6 L973.0,771.6 L973.8,771.6 L974.5,771.6 L975.2,771.6 L976.0,771.5 L976.8,771.5 L977.5,771.5 L978.2,771.5 L979.0,771.5 L979.8,771.5 L980.5,771.4 L981.2,771.4 L982.0,771.4 L982.8,771.4 L983.5,771.4 L984.2,771.4 L985.0,771.3 L985.8,771.3 L986.5,771.3 L987.2,771.3 L988.0,771.3 L988.8,771.2 L989.5,771.2 L990.2,771.2 L991.0,771.2 L991.8,771.2 L992.5,771.2 L993.2,771.1 L994.0,771.1 L994.8,771.1 L995.5,771.1 L996.2,771.1 L997.0,771.1 L997.8,771.0 L998.5,771.0 L999.2,771.0 L1000.0,771.0 L1000.8,771.0 L1001.5,770.9 L1002.2,770.9 L1003.0,770.9 L1003.8,770.9 L1004.5,770.9 L1005.2,770.9 L1006.0,770.8 L1006.8,770.8 L1007.5,770.8 L1008.2,770.8 L1009.0,770.8 L1009.8,770.7 L1010.5,770.7 L1011.2,770.7 L1012.0,770.7 L1012.8,770.7 L1013.5,770.7 L1014.2,770.6 L1015.0,770.6 L1015.8,770.6 L1016.5,770.6 L1017.2,770.6 L1018.0,770.5 L1018.8,770.5 L1019.5,770.5 L1020.2,770.5 L1021.0,770.5 L1021.8,770.4 L1022.5,770.4 L1023.2,770.4 L1024.0,770.4 L1024.8,770.4 L1025.5,770.3 L1026.2,770.3 L1027.0,770.3 L1027.8,770.3 L1028.5,770.3 L1029.2,770.2 L1030.0,770.2 L1030.8,770.2 L1031.5,770.2 L1032.2,770.2 L1033.0,770.1 L1033.8,770.1 L1034.5,770.1 L1035.2,770.1 L1036.0,770.1 L1036.8,770.0 L1037.5,770.0 L1038.2,770.0 L1038.3,770.0" fill="none" stroke="#ED7D31" stroke-width="5.1" stroke-linejoin="round" stroke-linecap="round"/>
<polygon points="188.2,796.2 189.5,718.1 190.3,605.5 191.2,601.8 191.9,601.0 192.6,601.8 193.3,605.5 193.6,668.3 195.4,671.3 196.4,718.1 197.4,796.2" fill="#A5A5A5" stroke="none"/>
<path d="M149.2,796.2 L184.0,796.2 L188.2,796.2 L189.5,718.1 L190.3,605.5 L191.2,601.8 L191.9,601.0 L192.6,601.8 L193.3,605.5 L193.6,668.3 L195.4,671.3 L196.4,718.1 L197.4,796.2 L205.0,796.2 L205.8,796.2 L206.5,796.2 L207.2,796.2 L208.0,796.2 L208.8,796.2 L209.5,796.2 L210.2,796.2 L211.0,796.2 L211.8,796.2 L212.5,796.2 L213.2,796.2 L214.0,796.2 L214.8,796.2 L215.5,796.2 L216.2,796.2 L217.0,796.2 L217.8,796.2 L218.5,796.2 L219.2,796.2 L220.0,796.2 L220.8,796.2 L221.5,796.2 L222.2,796.2 L223.0,796.2 L223.8,796.2 L224.5,796.2 L225.2,796.2 L226.0,796.2 L226.8,796.2 L227.5,796.2 L228.2,796.2 L229.0,796.2 L229.8,796.2 L230.5,796.2 L231.2,796.2 L232.0,796.2 L232.8,796.2 L233.5,796.2 L234.2,796.2 L235.0,796.2 L235.8,796.2 L236.5,796.2 L237.2,796.2 L238.0,796.2 L238.8,796.2 L239.5,796.2 L240.2,796.2 L241.0,796.2 L241.8,796.2 L242.5,796.2 L243.2,796.2 L244.0,796.2 L244.8,796.2 L245.5,796.2 L246.2,796.2 L247.0,796.2 L247.8,796.2 L248.5,796.2 L249.2,796.2 L250.0,796.2 L250.8,796.2 L251.5,796.2 L252.2,796.2 L253.0,796.2 L253.8,796.2 L254.5,796.2 L255.2,796.2 L256.0,796.2 L256.8,796.2 L257.5,796.2 L258.2,796.2 L259.0,796.2 L259.8,796.2 L260.5,796.2 L261.2,796.2 L262.0,796.2 L262.8,796.2 L263.5,796.2 L264.2,796.2 L265.0,796.2 L265.8,796.2 L266.5,796.2 L267.2,796.2 L268.0,796.2 L268.8,796.2 L269.5,796.2 L270.2,796.2 L271.0,796.2 L271.8,796.2 L272.5,796.2 L273.2,796.2 L274.0,796.2 L274.8,796.2 L275.5,796.2 L276.2,796.2 L277.0,796.2 L277.8,796.2 L278.5,796.2 L279.2,796.2 L280.0,796.2 L280.8,796.2 L281.5,796.2 L282.2,796.2 L283.0,796.2 L283.8,796.2 L284.5,796.2 L285.2,796.2 L286.0,796.2 L286.8,796.2 L287.5,796.2 L288.2,796.2 L289.0,796.2 L289.8,796.2 L290.5,796.2 L291.2,796.2 L292.0,796.2 L292.8,796.2 L293.5,796.2 L294.2,796.2 L295.0,796.2 L295.8,796.2 L296.5,796.2 L297.2,796.2 L298.0,796.2 L298.8,796.2 L299.5,796.2 L300.0,796.2 L300.2,796.2 L301.0,796.2 L301.8,796.2 L302.5,796.2 L303.2,796.2 L304.0,796.2 L304.8,796.2 L305.5,796.2 L306.2,796.2 L307.0,796.2 L307.8,796.2 L308.5,796.2 L309.2,796.2 L310.0,796.2 L310.8,796.2 L311.5,796.2 L312.2,796.2 L313.0,796.2 L313.8,796.2 L314.5,796.2 L315.2,796.2 L316.0,796.2 L316.8,796.2 L317.5,796.1 L318.2,796.1 L319.0,796.1 L319.8,796.1 L320.5,796.1 L321.2,796.1 L322.0,796.1 L322.8,796.1 L323.5,796.1 L324.2,796.1 L325.0,796.1 L325.8,796.1 L326.5,796.1 L327.2,796.1 L328.0,796.1 L328.8,796.1 L329.5,796.1 L330.2,796.1 L331.0,796.0 L331.8,796.0 L332.5,796.0 L333.2,796.0 L334.0,796.0 L334.8,796.0 L335.5,796.0 L336.2,796.0 L337.0,796.0 L337.8,796.0 L338.5,796.0 L339.2,796.0 L340.0,796.0 L340.8,795.9 L341.5,795.9 L342.2,795.9 L343.0,795.9 L343.8,795.9 L344.5,795.9 L345.2,795.9 L346.0,795.9 L346.8,795.9 L347.5,795.9 L348.2,795.8 L349.0,795.8 L349.8,795.8 L350.5,795.8 L351.2,795.8 L352.0,795.8 L352.8,795.8 L353.5,795.8 L354.2,795.8 L355.0,795.7 L355.8,795.7 L356.5,795.7 L357.2,795.7 L358.0,795.7 L358.8,795.7 L359.5,795.7 L360.2,795.7 L361.0,795.7 L361.8,795.6 L362.5,795.6 L363.2,795.6 L364.0,795.6 L364.8,795.6 L365.5,795.6 L366.2,795.6 L367.0,795.6 L367.8,795.5 L368.5,795.5 L369.2,795.5 L370.0,795.5 L370.8,795.5 L371.5,795.5 L372.2,795.4 L373.0,795.4 L373.8,795.4 L374.5,795.4 L375.2,795.3 L376.0,795.3 L376.8,795.3 L377.5,795.2 L378.2,795.2 L379.0,795.2 L379.8,795.1 L380.5,795.1 L381.2,795.0 L382.0,795.0 L382.8,794.9 L383.5,794.9 L384.2,794.8 L385.0,794.7 L385.8,794.7 L386.5,794.6 L387.2,794.6 L388.0,794.5 L388.8,794.4 L389.5,794.4 L390.2,794.3 L391.0,794.2 L391.8,794.1 L392.5,794.1 L393.2,794.0 L394.0,793.9 L394.8,793.8 L395.5,793.7 L396.2,793.7 L397.0,793.6 L397.8,793.5 L398.5,793.4 L399.2,793.3 L400.0,793.2 L400.8,793.1 L401.5,793.0 L402.2,792.9 L403.0,792.9 L403.8,792.8 L404.5,792.7 L405.2,792.6 L406.0,792.5 L406.8,792.4 L407.5,792.3 L408.2,792.2 L409.0,792.1 L409.8,792.0 L410.5,791.9 L411.2,791.8 L412.0,791.7 L412.8,791.6 L413.5,791.4 L414.2,791.3 L415.0,791.2 L415.8,791.1 L416.5,791.0 L417.2,790.9 L418.0,790.8 L418.8,790.7 L419.5,790.6 L420.2,790.5 L421.0,790.4 L421.8,790.3 L422.5,790.2 L423.2,790.1 L424.0,789.9 L424.8,789.8 L425.5,789.7 L426.2,789.6 L427.0,789.5 L427.8,789.4 L428.5,789.3 L429.2,789.2 L430.0,789.1 L430.8,789.0 L431.5,788.9 L432.2,788.8 L433.0,788.7 L433.8,788.6 L434.5,788.5 L435.2,788.4 L436.0,788.3 L436.8,788.2 L437.5,788.0 L438.2,787.9 L439.0,787.8 L439.8,787.8 L440.5,787.7 L441.2,787.6 L442.0,787.5 L442.8,787.4 L443.5,787.3 L444.2,787.2 L445.0,787.1 L445.8,787.0 L446.5,786.9 L447.2,786.8 L448.0,786.7 L448.8,786.6 L449.5,786.6 L450.0,786.5 L450.2,786.5 L451.0,786.4 L451.8,786.3 L452.5,786.2 L453.2,786.1 L454.0,786.1 L454.8,786.0 L455.5,785.9 L456.2,785.8 L457.0,785.7 L457.8,785.6 L458.5,785.6 L459.2,785.5 L460.0,785.4 L460.8,785.3 L461.5,785.2 L462.2,785.2 L463.0,785.1 L463.8,785.0 L464.5,784.9 L465.2,784.8 L466.0,784.8 L466.8,784.7 L467.5,784.6 L468.2,784.5 L469.0,784.4 L469.8,784.4 L470.5,784.3 L471.2,784.2 L472.0,784.1 L472.8,784.0 L473.5,784.0 L474.2,783.9 L475.0,783.8 L475.8,783.7 L476.5,783.6 L477.2,783.6 L478.0,783.5 L478.8,783.4 L479.5,783.3 L480.2,783.2 L481.0,783.1 L481.8,783.1 L482.5,783.0 L483.2,782.9 L484.0,782.8 L484.8,782.7 L485.5,782.7 L486.2,782.6 L487.0,782.5 L487.8,782.4 L488.5,782.3 L489.2,782.2 L490.0,782.2 L490.8,782.1 L491.5,782.0 L492.2,781.9 L493.0,781.8 L493.8,781.7 L494.5,781.6 L495.2,781.6 L496.0,781.5 L496.8,781.4 L497.5,781.3 L498.2,781.2 L499.0,781.1 L499.8,781.0 L500.0,781.0 L500.5,780.9 L501.2,780.9 L502.0,780.8 L502.8,780.7 L503.5,780.6 L504.2,780.5 L505.0,780.5 L505.8,780.4 L506.5,780.3 L507.2,780.2 L508.0,780.1 L508.8,780.1 L509.5,780.0 L510.2,779.9 L511.0,779.8 L511.8,779.7 L512.5,779.6 L513.2,779.5 L514.0,779.4 L514.8,779.3 L515.5,779.2 L516.2,779.1 L517.0,779.0 L517.8,778.9 L518.5,778.8 L519.2,778.6 L520.0,778.5 L520.8,778.4 L521.5,778.2 L522.2,778.0 L523.0,777.8 L523.8,777.6 L524.5,777.4 L525.2,777.1 L526.0,776.9 L526.8,776.6 L527.5,776.3 L528.2,776.1 L529.0,775.8 L529.8,775.5 L530.5,775.2 L531.2,774.9 L532.0,774.6 L532.8,774.3 L533.5,774.1 L534.2,773.8 L535.0,773.5 L535.8,773.2 L536.5,772.9 L537.2,772.6 L538.0,772.3 L538.8,772.0 L539.5,771.6 L540.2,771.3 L541.0,771.0 L541.8,770.7 L542.5,770.4 L543.2,770.1 L544.0,769.8 L544.8,769.6 L545.0,769.5 L545.5,769.4 L546.2,769.1 L547.0,768.9 L547.8,768.7 L548.5,768.4 L549.2,768.2 L550.0,768.1 L550.8,767.9 L551.5,767.8 L552.2,767.8 L552.4,767.8 L553.0,767.8 L553.8,767.8 L554.5,767.8 L555.2,767.9 L556.0,767.9 L556.8,767.9 L557.5,767.9 L558.2,768.0 L559.0,768.0 L559.8,768.0 L560.0,768.0 L560.5,768.0 L561.2,768.0 L562.0,767.9 L562.8,767.8 L563.5,767.7 L564.2,767.6 L565.0,767.4 L565.8,767.2 L566.5,767.0 L567.2,766.8 L568.0,766.6 L568.8,766.4 L569.5,766.1 L570.2,765.8 L571.0,765.6 L571.8,765.3 L572.5,765.0 L573.2,764.7 L574.0,764.4 L574.8,764.1 L575.5,763.7 L575.6,763.7 L576.2,763.4 L577.0,762.9 L577.8,762.3 L578.5,761.6 L579.2,760.8 L580.0,760.0 L580.8,759.2 L581.5,758.5 L582.2,757.7 L583.0,757.0 L583.8,756.4 L584.5,755.9 L585.2,755.5 L586.0,755.3 L586.6,755.2 L586.8,755.2 L587.5,755.4 L588.2,755.9 L589.0,756.5 L589.8,757.3 L590.5,758.1 L591.2,758.8 L592.0,759.4 L592.8,759.8 L593.5,760.0 L594.2,760.0 L595.0,760.0 L595.8,759.9 L596.5,759.9 L597.2,759.8 L598.0,759.7 L598.8,759.6 L599.5,759.4 L600.2,759.3 L601.0,759.1 L601.8,758.9 L602.5,758.7 L603.2,758.5 L603.7,758.3 L604.0,758.1 L604.8,757.2 L605.5,755.6 L606.2,753.7 L607.0,751.5 L607.8,749.3 L608.0,748.6 L608.5,747.1 L609.2,744.5 L610.0,741.6 L610.8,738.5 L611.5,735.5 L612.2,732.6 L612.3,732.4 L613.0,729.6 L613.8,726.3 L614.5,723.1 L615.2,720.5 L616.0,718.7 L616.1,718.5 L616.8,717.6 L617.5,716.6 L618.2,715.8 L619.0,715.1 L619.8,714.7 L620.5,714.4 L620.8,714.4 L621.2,714.7 L622.0,716.6 L622.8,719.7 L623.5,723.4 L624.2,727.2 L625.0,730.8 L625.8,733.4 L626.0,734.0 L626.5,735.0 L627.2,736.6 L628.0,738.0 L628.8,739.3 L629.5,740.5 L630.2,741.4 L631.0,742.1 L631.8,742.5 L632.1,742.5 L632.5,742.3 L633.2,741.3 L634.0,739.3 L634.8,736.6 L635.5,733.3 L636.2,729.7 L637.0,725.8 L637.8,721.9 L638.5,718.0 L639.2,714.4 L640.0,711.3 L640.8,708.7 L641.0,708.0 L641.5,706.8 L642.2,705.5 L643.0,704.3 L643.8,702.9 L644.5,701.0 L644.8,700.0 L645.2,697.2 L646.0,689.2 L646.8,679.6 L647.5,672.0 L648.2,666.2 L649.0,661.0 L649.8,658.3 L649.9,658.2 L650.5,659.6 L651.2,664.1 L652.0,669.8 L652.3,672.0 L652.8,675.3 L653.5,681.5 L654.2,688.2 L655.0,695.0 L655.6,700.0 L655.8,701.2 L656.5,707.5 L657.2,713.7 L658.0,719.1 L658.5,722.0 L658.8,723.3 L659.5,727.0 L660.2,730.5 L661.0,733.0 L661.8,734.0 L661.8,734.0 L662.5,733.3 L663.2,731.3 L664.0,728.5 L664.8,725.2 L665.5,722.0 L666.2,719.0 L667.0,715.8 L667.8,712.1 L668.5,707.7 L669.2,702.1 L669.5,700.0 L670.0,693.7 L670.8,679.7 L671.5,664.8 L672.2,650.3 L673.0,635.9 L673.2,632.4 L673.8,623.3 L674.5,611.6 L675.2,600.7 L675.3,600.0 L676.0,589.7 L676.6,583.0 L676.8,581.9 L677.5,578.2 L678.2,581.8 L678.4,583.0 L679.0,591.6 L679.5,600.0 L679.8,603.3 L680.5,612.3 L681.2,620.6 L682.0,628.9 L682.3,632.4 L682.8,638.1 L683.5,648.4 L684.2,658.0 L685.0,664.8 L685.8,669.1 L686.5,672.5 L687.2,675.3 L688.0,677.8 L688.8,680.2 L689.5,682.8 L690.2,685.7 L690.4,686.4 L691.0,689.2 L691.8,693.1 L692.5,697.0 L693.1,700.0 L693.2,700.8 L694.0,704.9 L694.8,709.5 L695.5,714.3 L696.2,718.9 L697.0,723.0 L697.8,726.4 L698.5,728.7 L699.2,729.6 L699.3,729.6 L700.0,729.3 L700.8,728.3 L701.5,726.8 L702.2,724.8 L703.0,722.4 L703.8,719.6 L704.5,716.7 L705.2,713.6 L706.0,710.6 L706.8,707.5 L707.5,704.6 L708.2,701.9 L709.0,699.5 L709.8,697.6 L710.0,697.0 L710.5,695.9 L711.2,694.2 L712.0,692.5 L712.8,690.9 L713.5,689.5 L714.2,688.3 L715.0,687.4 L715.8,687.0 L716.0,687.0 L716.5,687.2 L717.2,688.2 L718.0,690.0 L718.8,692.4 L719.5,695.2 L720.2,698.2 L721.0,701.5 L721.8,704.7 L722.5,707.8 L723.2,710.5 L723.8,712.3 L724.0,712.9 L724.8,715.1 L725.5,717.4 L726.2,719.7 L727.0,721.9 L727.8,724.0 L728.5,726.0 L729.2,727.7 L730.0,729.2 L730.2,729.6 L730.8,730.6 L731.5,731.9 L732.2,733.3 L733.0,734.5 L733.8,735.7 L734.5,736.8 L735.2,737.8 L736.0,738.5 L736.8,739.0 L737.5,739.3 L737.8,739.3 L738.2,739.3 L739.0,739.1 L739.8,738.8 L740.5,738.4 L741.2,737.8 L742.0,737.2 L742.8,736.5 L743.5,735.8 L744.2,735.0 L745.0,734.2 L745.8,733.5 L746.5,732.7 L747.2,732.0 L748.0,731.4 L748.8,730.8 L749.5,730.3 L750.2,729.9 L751.0,729.7 L751.8,729.6 L751.8,729.6 L752.5,729.8 L753.2,730.2 L754.0,731.0 L754.8,732.0 L755.5,733.1 L756.2,734.4 L757.0,735.7 L757.8,737.0 L758.5,738.3 L759.2,739.5 L760.0,740.6 L760.8,741.5 L761.5,742.1 L762.2,742.5 L762.6,742.5 L763.0,742.5 L763.8,742.1 L764.5,741.5 L765.2,740.6 L766.0,739.5 L766.8,738.3 L767.5,736.9 L768.2,735.4 L769.0,734.0 L769.8,732.5 L770.5,731.0 L771.2,729.7 L771.3,729.6 L772.0,728.2 L772.8,726.4 L773.5,724.5 L774.2,722.5 L775.0,720.7 L775.8,719.2 L776.5,718.1 L777.2,717.7 L777.3,717.7 L778.0,717.9 L778.8,718.7 L779.5,719.9 L780.2,721.3 L781.0,723.0 L781.8,724.7 L782.5,726.4 L783.2,728.0 L784.0,729.3 L784.2,729.6 L784.8,730.4 L785.5,731.5 L786.2,732.7 L787.0,733.8 L787.8,734.9 L788.5,735.9 L789.2,736.9 L790.0,737.9 L790.8,738.7 L791.5,739.4 L792.2,740.0 L792.9,740.4 L793.0,740.5 L793.8,740.8 L794.5,741.2 L795.2,741.6 L796.0,741.9 L796.8,742.3 L797.5,742.6 L798.2,742.9 L799.0,743.2 L799.8,743.4 L800.5,743.7 L801.2,743.9 L802.0,744.1 L802.8,744.3 L803.5,744.5 L804.2,744.7 L805.0,744.8 L805.8,744.9 L806.5,744.9 L807.2,745.0 L808.0,745.0 L808.8,745.0 L809.5,745.0 L810.2,745.0 L811.0,745.0 L811.8,745.0 L812.5,745.0 L813.2,745.0 L814.0,745.0 L814.8,745.0 L815.5,745.0 L816.2,745.0 L817.0,745.0 L817.8,745.0 L818.5,745.0 L819.2,745.0 L820.0,745.0 L820.8,745.0 L821.5,745.0 L822.2,745.0 L823.0,745.0 L823.8,745.0 L824.5,745.0 L825.2,745.0 L826.0,745.0 L826.8,745.0 L827.5,745.0 L828.2,745.0 L829.0,745.0 L829.8,745.0 L830.5,745.0 L831.2,745.0 L832.0,745.0 L832.8,745.0 L833.5,745.0 L834.2,745.0 L835.0,745.0 L835.8,745.0 L836.5,745.0 L837.2,745.0 L838.0,745.0 L838.8,745.0 L839.5,745.0 L840.2,745.0 L841.0,745.0 L841.8,745.0 L842.5,745.0 L843.2,745.0 L844.0,745.0 L844.8,745.0 L845.5,745.0 L846.2,745.0 L847.0,745.0 L847.8,745.0 L848.5,745.0 L849.2,745.0 L850.0,745.0 L850.8,745.0 L851.0,745.0 L851.5,745.0 L852.2,745.0 L853.0,745.0 L853.8,745.0 L854.5,745.0 L855.2,745.0 L856.0,744.9 L856.8,744.9 L857.5,744.9 L858.2,744.9 L859.0,744.9 L859.8,744.8 L860.5,744.8 L861.2,744.8 L862.0,744.8 L862.8,744.7 L863.5,744.7 L864.2,744.7 L865.0,744.6 L865.8,744.6 L866.5,744.6 L867.2,744.5 L868.0,744.5 L868.8,744.4 L869.5,744.4 L870.2,744.4 L871.0,744.3 L871.8,744.3 L872.5,744.2 L873.2,744.2 L874.0,744.1 L874.8,744.1 L875.5,744.0 L876.2,744.0 L877.0,743.9 L877.8,743.9 L878.5,743.8 L879.2,743.8 L880.0,743.7 L880.8,743.7 L881.5,743.6 L882.2,743.6 L883.0,743.5 L883.8,743.5 L884.5,743.4 L885.2,743.4 L886.0,743.3 L886.8,743.3 L887.5,743.2 L888.2,743.2 L889.0,743.1 L889.8,743.1 L890.5,743.0 L891.2,743.0 L892.0,742.9 L892.8,742.9 L893.5,742.8 L894.2,742.8 L895.0,742.8 L895.8,742.7 L896.5,742.7 L897.2,742.6 L898.0,742.6 L898.8,742.6 L899.5,742.5 L900.0,742.5 L900.2,742.5 L901.0,742.5 L901.8,742.4 L902.5,742.4 L903.2,742.4 L904.0,742.3 L904.8,742.3 L905.5,742.2 L906.2,742.2 L907.0,742.2 L907.8,742.1 L908.5,742.1 L909.2,742.1 L910.0,742.0 L910.8,742.0 L911.5,742.0 L912.2,741.9 L913.0,741.9 L913.8,741.9 L914.5,741.8 L915.2,741.8 L916.0,741.8 L916.8,741.7 L917.5,741.7 L918.2,741.7 L919.0,741.6 L919.8,741.6 L920.5,741.6 L921.2,741.5 L922.0,741.5 L922.8,741.5 L923.5,741.4 L924.2,741.4 L925.0,741.4 L925.8,741.3 L926.5,741.3 L927.2,741.3 L928.0,741.2 L928.8,741.2 L929.5,741.2 L930.2,741.1 L931.0,741.1 L931.8,741.1 L932.5,741.0 L933.2,741.0 L934.0,741.0 L934.8,741.0 L935.5,740.9 L936.2,740.9 L937.0,740.9 L937.8,740.8 L938.5,740.8 L939.2,740.8 L940.0,740.7 L940.8,740.7 L941.5,740.7 L942.2,740.6 L943.0,740.6 L943.8,740.6 L944.5,740.5 L945.2,740.5 L946.0,740.5 L946.8,740.4 L947.5,740.4 L948.2,740.4 L949.0,740.3 L949.8,740.3 L950.5,740.3 L951.2,740.2 L952.0,740.2 L952.8,740.2 L953.5,740.1 L954.2,740.1 L955.0,740.1 L955.8,740.1 L956.5,740.0 L957.2,740.0 L958.0,740.0 L958.8,739.9 L959.5,739.9 L960.2,739.9 L961.0,739.8 L961.8,739.8 L962.5,739.8 L963.2,739.7 L964.0,739.7 L964.8,739.7 L965.5,739.7 L966.2,739.6 L967.0,739.6 L967.8,739.6 L968.5,739.5 L969.2,739.5 L970.0,739.5 L970.8,739.4 L971.5,739.4 L972.2,739.4 L973.0,739.4 L973.8,739.3 L974.5,739.3 L975.2,739.3 L976.0,739.2 L976.8,739.2 L977.5,739.2 L978.2,739.1 L979.0,739.1 L979.8,739.1 L980.5,739.1 L981.2,739.0 L982.0,739.0 L982.8,739.0 L983.5,738.9 L984.2,738.9 L985.0,738.9 L985.8,738.8 L986.5,738.8 L987.2,738.8 L988.0,738.8 L988.8,738.7 L989.5,738.7 L990.2,738.7 L991.0,738.6 L991.8,738.6 L992.5,738.6 L993.2,738.6 L994.0,738.5 L994.8,738.5 L995.5,738.5 L996.2,738.5 L997.0,738.4 L997.8,738.4 L998.5,738.4 L999.2,738.3 L1000.0,738.3 L1000.8,738.3 L1001.5,738.3 L1002.2,738.2 L1003.0,738.2 L1003.8,738.2 L1004.5,738.1 L1005.2,738.1 L1006.0,738.1 L1006.8,738.1 L1007.5,738.0 L1008.2,738.0 L1009.0,738.0 L1009.8,738.0 L1010.5,737.9 L1011.2,737.9 L1012.0,737.9 L1012.8,737.9 L1013.5,737.8 L1014.2,737.8 L1015.0,737.8 L1015.8,737.7 L1016.5,737.7 L1017.2,737.7 L1018.0,737.7 L1018.8,737.6 L1019.5,737.6 L1020.2,737.6 L1021.0,737.6 L1021.8,737.5 L1022.5,737.5 L1023.2,737.5 L1024.0,737.5 L1024.8,737.4 L1025.5,737.4 L1026.2,737.4 L1027.0,737.4 L1027.8,737.3 L1028.5,737.3 L1029.2,737.3 L1030.0,737.3 L1030.8,737.2 L1031.5,737.2 L1032.2,737.2 L1033.0,737.2 L1033.8,737.1 L1034.5,737.1 L1035.2,737.1 L1036.0,737.1 L1036.8,737.0 L1037.5,737.0 L1038.2,737.0 L1038.3,737.0" fill="none" stroke="#A5A5A5" stroke-width="5.1" stroke-linejoin="round" stroke-linecap="round"/>
<polygon points="188.2,792.7 189.5,751.5 190.3,694.3 191.2,690.6 191.9,689.8 192.6,690.6 193.3,694.3 193.6,725.3 195.4,728.3 196.4,751.5 197.4,792.7" fill="#FFC000" stroke="none"/>
<path d="M149.2,792.7 L184.0,792.7 L188.2,792.7 L189.5,751.5 L190.3,694.3 L191.2,690.6 L191.9,689.8 L192.6,690.6 L193.3,694.3 L193.6,725.3 L195.4,728.3 L196.4,751.5 L197.4,792.7 L205.0,792.7 L205.8,792.7 L206.5,792.7 L207.2,792.7 L208.0,792.7 L208.8,792.7 L209.5,792.7 L210.2,792.7 L211.0,792.7 L211.8,792.7 L212.5,792.7 L213.2,792.7 L214.0,792.7 L214.8,792.7 L215.5,792.7 L216.2,792.7 L217.0,792.7 L217.8,792.7 L218.5,792.7 L219.2,792.7 L220.0,792.7 L220.8,792.7 L221.5,792.7 L222.2,792.7 L223.0,792.7 L223.8,792.7 L224.5,792.7 L225.2,792.7 L226.0,792.7 L226.8,792.7 L227.5,792.7 L228.2,792.7 L229.0,792.7 L229.8,792.7 L230.5,792.7 L231.2,792.7 L232.0,792.7 L232.8,792.7 L233.5,792.7 L234.2,792.7 L235.0,792.7 L235.8,792.7 L236.5,792.7 L237.2,792.7 L238.0,792.7 L238.8,792.7 L239.5,792.7 L240.2,792.7 L241.0,792.7 L241.8,792.7 L242.5,792.7 L243.2,792.7 L244.0,792.7 L244.8,792.7 L245.5,792.7 L246.2,792.7 L247.0,792.7 L247.8,792.7 L248.5,792.7 L249.2,792.7 L250.0,792.7 L250.8,792.7 L251.5,792.7 L252.2,792.7 L253.0,792.7 L253.8,792.7 L254.5,792.7 L255.2,792.7 L256.0,792.7 L256.8,792.7 L257.5,792.7 L258.2,792.7 L259.0,792.7 L259.8,792.7 L260.5,792.7 L261.2,792.7 L262.0,792.7 L262.8,792.7 L263.5,792.7 L264.2,792.7 L265.0,792.7 L265.8,792.7 L266.5,792.7 L267.2,792.7 L268.0,792.7 L268.8,792.7 L269.5,792.7 L270.2,792.7 L271.0,792.7 L271.8,792.7 L272.5,792.7 L273.2,792.7 L274.0,792.7 L274.8,792.7 L275.5,792.7 L276.2,792.7 L277.0,792.7 L277.8,792.7 L278.5,792.7 L279.2,792.7 L280.0,792.7 L280.8,792.7 L281.5,792.7 L282.2,792.7 L283.0,792.7 L283.8,792.7 L284.5,792.7 L285.2,792.7 L286.0,792.7 L286.8,792.7 L287.5,792.7 L288.2,792.7 L289.0,792.7 L289.8,792.7 L290.5,792.7 L291.2,792.7 L292.0,792.7 L292.8,792.7 L293.5,792.7 L294.2,792.7 L295.0,792.7 L295.8,792.7 L296.5,792.7 L297.2,792.7 L298.0,792.7 L298.8,792.7 L299.5,792.7 L300.0,792.7 L300.2,792.7 L301.0,792.7 L301.8,792.7 L302.5,792.7 L303.2,792.7 L304.0,792.7 L304.8,792.7 L305.5,792.7 L306.2,792.7 L307.0,792.7 L307.8,792.7 L308.5,792.7 L309.2,792.7 L310.0,792.7 L310.8,792.7 L311.5,792.7 L312.2,792.7 L313.0,792.7 L313.8,792.7 L314.5,792.7 L315.2,792.7 L316.0,792.7 L316.8,792.7 L317.5,792.7 L318.2,792.7 L319.0,792.7 L319.8,792.7 L320.5,792.7 L321.2,792.7 L322.0,792.7 L322.8,792.7 L323.5,792.7 L324.2,792.7 L325.0,792.7 L325.8,792.7 L326.5,792.7 L327.2,792.7 L328.0,792.7 L328.8,792.7 L329.5,792.7 L330.2,792.7 L331.0,792.7 L331.8,792.7 L332.5,792.7 L333.2,792.7 L334.0,792.7 L334.8,792.7 L335.5,792.7 L336.2,792.7 L337.0,792.7 L337.8,792.7 L338.5,792.7 L339.2,792.7 L340.0,792.7 L340.8,792.7 L341.5,792.7 L342.2,792.7 L343.0,792.7 L343.8,792.7 L344.5,792.7 L345.2,792.7 L346.0,792.7 L346.8,792.7 L347.5,792.7 L348.2,792.7 L349.0,792.7 L349.8,792.7 L350.5,792.7 L351.2,792.7 L352.0,792.7 L352.8,792.7 L353.5,792.7 L354.2,792.7 L355.0,792.7 L355.8,792.7 L356.5,792.7 L357.2,792.7 L358.0,792.7 L358.8,792.7 L359.5,792.7 L360.2,792.7 L361.0,792.7 L361.8,792.7 L362.5,792.7 L363.2,792.7 L364.0,792.7 L364.8,792.7 L365.0,792.7 L365.5,792.7 L366.2,792.7 L367.0,792.7 L367.8,792.6 L368.5,792.6 L369.2,792.5 L370.0,792.4 L370.8,792.4 L371.5,792.3 L372.2,792.2 L373.0,792.1 L373.8,792.0 L374.5,791.9 L375.2,791.9 L376.0,791.8 L376.8,791.7 L377.5,791.6 L378.2,791.5 L379.0,791.4 L379.8,791.3 L380.0,791.3 L380.5,791.3 L381.2,791.2 L382.0,791.1 L382.8,791.0 L383.5,790.9 L384.2,790.9 L385.0,790.8 L385.8,790.7 L386.5,790.6 L387.2,790.6 L388.0,790.5 L388.8,790.4 L389.5,790.3 L390.2,790.2 L391.0,790.2 L391.8,790.1 L392.5,790.0 L393.2,789.9 L394.0,789.8 L394.8,789.8 L395.5,789.7 L396.2,789.6 L397.0,789.5 L397.8,789.4 L398.5,789.4 L399.2,789.3 L400.0,789.2 L400.8,789.1 L401.5,789.0 L402.2,788.9 L403.0,788.9 L403.8,788.8 L404.5,788.7 L405.2,788.6 L406.0,788.5 L406.8,788.4 L407.5,788.3 L408.2,788.3 L409.0,788.2 L409.8,788.1 L410.5,788.0 L411.2,787.9 L412.0,787.8 L412.8,787.8 L413.5,787.7 L414.2,787.6 L415.0,787.5 L415.8,787.4 L416.5,787.3 L417.2,787.2 L418.0,787.2 L418.8,787.1 L419.5,787.0 L420.2,786.9 L421.0,786.8 L421.8,786.7 L422.5,786.6 L423.2,786.6 L424.0,786.5 L424.8,786.4 L425.5,786.3 L426.2,786.2 L427.0,786.1 L427.8,786.0 L428.5,786.0 L429.2,785.9 L430.0,785.8 L430.8,785.7 L431.5,785.6 L432.2,785.5 L433.0,785.4 L433.8,785.4 L434.5,785.3 L435.2,785.2 L436.0,785.1 L436.8,785.0 L437.5,784.9 L438.2,784.9 L439.0,784.8 L439.8,784.7 L440.5,784.6 L441.2,784.5 L442.0,784.5 L442.8,784.4 L443.5,784.3 L444.2,784.2 L445.0,784.1 L445.8,784.0 L446.5,784.0 L447.2,783.9 L448.0,783.8 L448.8,783.7 L449.5,783.7 L450.0,783.6 L450.2,783.6 L451.0,783.5 L451.8,783.4 L452.5,783.3 L453.2,783.3 L454.0,783.2 L454.8,783.1 L455.5,783.0 L456.2,782.9 L457.0,782.9 L457.8,782.8 L458.5,782.7 L459.2,782.6 L460.0,782.5 L460.8,782.5 L461.5,782.4 L462.2,782.3 L463.0,782.2 L463.8,782.1 L464.5,782.1 L465.2,782.0 L466.0,781.9 L466.8,781.8 L467.5,781.7 L468.2,781.7 L469.0,781.6 L469.8,781.5 L470.5,781.4 L471.2,781.3 L472.0,781.3 L472.8,781.2 L473.5,781.1 L474.2,781.0 L475.0,780.9 L475.8,780.9 L476.5,780.8 L477.2,780.7 L478.0,780.6 L478.8,780.6 L479.5,780.5 L480.2,780.4 L481.0,780.3 L481.8,780.3 L482.5,780.2 L483.2,780.1 L484.0,780.0 L484.8,780.0 L485.5,779.9 L486.2,779.8 L487.0,779.7 L487.8,779.7 L488.5,779.6 L489.2,779.5 L490.0,779.5 L490.8,779.4 L491.5,779.3 L492.2,779.3 L493.0,779.2 L493.8,779.1 L494.5,779.1 L495.2,779.0 L496.0,778.9 L496.8,778.9 L497.5,778.8 L498.2,778.7 L499.0,778.7 L499.8,778.6 L500.0,778.6 L500.5,778.6 L501.2,778.5 L502.0,778.4 L502.8,778.4 L503.5,778.3 L504.2,778.3 L505.0,778.2 L505.8,778.2 L506.5,778.1 L507.2,778.1 L508.0,778.0 L508.8,778.0 L509.5,777.9 L510.2,777.9 L511.0,777.8 L511.8,777.8 L512.5,777.7 L513.2,777.7 L514.0,777.6 L514.8,777.6 L515.5,777.5 L516.2,777.5 L517.0,777.4 L517.8,777.4 L518.5,777.3 L519.2,777.3 L520.0,777.2 L520.8,777.1 L521.5,777.1 L522.2,777.0 L523.0,777.0 L523.8,776.9 L524.5,776.8 L525.2,776.8 L526.0,776.7 L526.8,776.7 L527.5,776.6 L528.2,776.5 L529.0,776.5 L529.8,776.4 L530.5,776.4 L531.2,776.3 L532.0,776.2 L532.8,776.2 L533.5,776.1 L534.2,776.1 L535.0,776.0 L535.8,775.9 L536.5,775.9 L537.2,775.8 L538.0,775.7 L538.8,775.7 L539.5,775.6 L540.2,775.5 L541.0,775.5 L541.8,775.4 L542.5,775.3 L543.2,775.3 L544.0,775.2 L544.8,775.1 L545.5,775.0 L546.2,775.0 L547.0,774.9 L547.8,774.8 L548.5,774.7 L549.2,774.6 L550.0,774.6 L550.8,774.5 L551.5,774.4 L552.2,774.3 L553.0,774.2 L553.8,774.1 L554.5,774.0 L555.2,773.9 L556.0,773.8 L556.8,773.7 L557.5,773.6 L558.2,773.5 L559.0,773.4 L559.8,773.3 L560.5,773.2 L561.2,773.1 L562.0,773.0 L562.8,772.9 L563.2,772.8 L563.5,772.8 L564.2,772.6 L565.0,772.5 L565.8,772.4 L566.5,772.2 L567.2,772.0 L568.0,771.9 L568.8,771.7 L569.5,771.5 L570.2,771.3 L571.0,771.2 L571.8,771.0 L572.5,770.7 L573.2,770.5 L574.0,770.3 L574.8,770.1 L575.5,769.9 L576.2,769.7 L577.0,769.4 L577.8,769.2 L578.5,768.9 L579.2,768.7 L580.0,768.4 L580.8,768.2 L581.5,767.9 L582.2,767.7 L583.0,767.4 L583.8,767.2 L584.5,766.9 L584.8,766.8 L585.2,766.6 L586.0,766.3 L586.8,765.9 L587.5,765.5 L588.2,765.1 L589.0,764.6 L589.8,764.2 L590.5,763.7 L591.2,763.4 L592.0,763.0 L592.8,762.8 L593.5,762.6 L594.2,762.5 L594.5,762.5 L595.0,762.5 L595.8,762.7 L596.5,763.1 L597.2,763.5 L598.0,764.0 L598.8,764.6 L599.5,765.1 L600.2,765.6 L601.0,765.9 L601.8,766.2 L602.5,766.3 L603.2,766.2 L604.0,765.8 L604.8,765.2 L605.5,764.5 L606.2,763.6 L607.0,762.6 L607.8,761.5 L608.5,760.3 L609.2,759.1 L610.0,757.9 L610.8,756.7 L611.5,755.5 L612.2,754.2 L613.0,752.6 L613.8,750.7 L614.5,748.8 L615.2,746.7 L616.0,744.7 L616.8,742.7 L617.5,740.9 L618.2,739.4 L619.0,738.2 L619.8,737.3 L620.5,737.0 L620.6,737.0 L621.2,737.2 L622.0,738.0 L622.8,739.3 L623.5,740.9 L624.2,742.8 L625.0,744.9 L625.8,746.9 L626.5,749.0 L627.2,750.8 L628.0,752.4 L628.8,753.6 L629.5,754.3 L630.0,754.4 L630.2,754.4 L631.0,754.1 L631.8,753.5 L632.5,752.6 L633.2,751.5 L634.0,750.2 L634.8,748.6 L635.5,746.9 L636.2,745.1 L637.0,743.2 L637.8,741.2 L638.5,739.1 L639.2,737.0 L640.0,735.0 L640.8,732.4 L641.5,728.9 L642.2,724.9 L643.0,720.8 L643.8,716.9 L644.5,713.7 L645.2,711.4 L646.0,710.6 L646.8,711.6 L647.5,714.3 L648.2,718.1 L649.0,722.5 L649.8,726.9 L650.5,730.9 L651.0,733.0 L651.2,733.9 L652.0,737.0 L652.8,740.1 L653.5,742.9 L654.2,745.2 L655.0,746.6 L655.5,746.9 L655.8,746.9 L656.5,746.6 L657.2,746.0 L658.0,745.1 L658.8,744.0 L659.5,742.7 L660.2,741.1 L661.0,739.4 L661.8,737.6 L662.0,737.0 L662.5,735.5 L663.2,732.2 L664.0,727.9 L664.8,722.9 L665.5,717.2 L666.2,710.9 L667.0,704.4 L667.5,700.0 L667.8,697.5 L668.5,687.7 L669.2,679.1 L669.4,678.0 L670.0,674.5 L670.5,673.2 L670.8,673.5 L671.5,676.4 L671.8,678.0 L672.2,681.5 L673.0,690.4 L673.8,698.8 L673.9,700.0 L674.5,704.0 L675.2,708.4 L676.0,712.2 L676.8,715.2 L677.0,716.0 L677.5,717.5 L678.2,719.5 L679.0,721.2 L679.8,722.7 L680.5,724.1 L681.2,725.5 L682.0,727.0 L682.8,728.6 L683.5,730.3 L684.2,732.1 L685.0,733.9 L685.8,735.8 L686.5,737.6 L687.2,739.4 L688.0,741.1 L688.8,742.8 L689.5,744.3 L690.2,745.6 L691.0,746.8 L691.8,747.8 L692.5,748.5 L693.2,748.9 L693.9,749.0 L694.0,749.0 L694.8,748.8 L695.5,748.3 L696.2,747.5 L697.0,746.5 L697.8,745.4 L698.5,744.0 L699.2,742.5 L700.0,741.0 L700.8,739.3 L701.5,737.7 L702.2,736.0 L703.0,734.4 L703.8,732.9 L704.5,731.4 L705.2,730.2 L706.0,729.0 L706.8,728.1 L707.5,727.5 L708.2,727.1 L708.8,727.0 L709.0,727.0 L709.8,727.6 L710.5,728.7 L711.2,730.4 L712.0,732.3 L712.8,734.4 L713.5,736.6 L714.2,738.6 L715.0,740.5 L715.8,741.9 L716.2,742.5 L716.5,742.8 L717.2,743.7 L718.0,744.5 L718.8,745.3 L719.5,746.1 L720.2,746.8 L721.0,747.6 L721.8,748.2 L722.5,748.8 L723.2,749.4 L724.0,749.9 L724.8,750.3 L725.5,750.7 L726.2,750.9 L727.0,751.1 L727.8,751.2 L728.0,751.2 L728.5,751.2 L729.2,751.1 L730.0,751.0 L730.8,750.9 L731.5,750.7 L732.2,750.6 L733.0,750.3 L733.8,750.1 L734.5,749.8 L735.2,749.6 L736.0,749.3 L736.8,749.0 L737.5,748.8 L738.2,748.5 L739.0,748.2 L739.8,748.0 L740.5,747.7 L741.2,747.5 L742.0,747.3 L742.8,747.2 L743.5,747.0 L744.2,747.0 L745.0,746.9 L745.4,746.9 L745.8,746.9 L746.5,747.1 L747.2,747.3 L748.0,747.7 L748.8,748.1 L749.5,748.6 L750.2,749.1 L751.0,749.6 L751.8,750.1 L752.5,750.5 L753.2,750.8 L754.0,751.1 L754.8,751.2 L755.0,751.2 L755.5,751.2 L756.2,751.1 L757.0,750.8 L757.8,750.5 L758.5,750.2 L759.2,749.7 L760.0,749.2 L760.8,748.7 L761.5,748.1 L762.2,747.5 L763.0,746.9 L763.8,746.2 L764.5,745.5 L765.2,744.9 L766.0,744.2 L766.8,743.6 L767.5,743.0 L768.2,742.5 L769.0,742.0 L769.8,741.5 L770.5,741.1 L771.2,740.8 L772.0,740.6 L772.8,740.4 L773.4,740.4 L773.5,740.4 L774.2,740.6 L775.0,741.1 L775.8,741.7 L776.5,742.5 L777.2,743.4 L778.0,744.3 L778.8,745.2 L779.5,745.9 L780.2,746.5 L781.0,746.9 L781.8,747.1 L782.5,747.4 L783.2,747.6 L784.0,747.8 L784.8,748.0 L785.5,748.2 L786.2,748.3 L787.0,748.5 L787.8,748.7 L788.5,748.8 L789.2,749.0 L790.0,749.1 L790.8,749.2 L791.5,749.3 L792.2,749.4 L793.0,749.5 L793.8,749.6 L794.5,749.6 L795.2,749.7 L796.0,749.7 L796.8,749.7 L797.2,749.7 L797.5,749.7 L798.2,749.7 L799.0,749.7 L799.8,749.7 L800.5,749.7 L801.2,749.6 L802.0,749.6 L802.8,749.6 L803.5,749.5 L804.2,749.5 L805.0,749.5 L805.8,749.4 L806.5,749.4 L807.2,749.3 L808.0,749.3 L808.8,749.2 L809.5,749.2 L810.2,749.1 L811.0,749.0 L811.8,749.0 L812.5,748.9 L813.2,748.9 L814.0,748.8 L814.8,748.7 L815.5,748.7 L816.2,748.6 L817.0,748.6 L817.8,748.5 L818.5,748.5 L819.2,748.4 L820.0,748.3 L820.8,748.3 L821.5,748.2 L822.2,748.2 L823.0,748.2 L823.8,748.1 L824.5,748.1 L825.2,748.0 L826.0,748.0 L826.8,748.0 L827.5,747.9 L828.2,747.9 L829.0,747.9 L829.8,747.9 L830.5,747.8 L831.2,747.8 L832.0,747.8 L832.8,747.8 L833.5,747.7 L834.2,747.7 L835.0,747.7 L835.8,747.7 L836.5,747.7 L837.2,747.6 L838.0,747.6 L838.8,747.6 L839.5,747.6 L840.2,747.6 L841.0,747.5 L841.8,747.5 L842.5,747.5 L843.2,747.5 L844.0,747.4 L844.8,747.4 L845.5,747.4 L846.2,747.4 L847.0,747.3 L847.8,747.3 L848.5,747.3 L849.2,747.3 L850.0,747.2 L850.8,747.2 L851.0,747.2 L851.5,747.2 L852.2,747.1 L853.0,747.1 L853.8,747.1 L854.5,747.0 L855.2,747.0 L856.0,747.0 L856.8,746.9 L857.5,746.9 L858.2,746.9 L859.0,746.8 L859.8,746.8 L860.5,746.7 L861.2,746.7 L862.0,746.7 L862.8,746.6 L863.5,746.6 L864.2,746.5 L865.0,746.5 L865.8,746.4 L866.5,746.4 L867.2,746.3 L868.0,746.3 L868.8,746.2 L869.5,746.2 L870.2,746.1 L871.0,746.1 L871.8,746.0 L872.5,746.0 L873.2,745.9 L874.0,745.9 L874.8,745.8 L875.5,745.8 L876.2,745.8 L877.0,745.7 L877.8,745.7 L878.5,745.6 L879.2,745.6 L880.0,745.5 L880.8,745.5 L881.5,745.4 L882.2,745.4 L883.0,745.3 L883.8,745.3 L884.5,745.2 L885.2,745.2 L886.0,745.1 L886.8,745.1 L887.5,745.0 L888.2,745.0 L889.0,744.9 L889.8,744.9 L890.5,744.8 L891.0,744.8 L891.2,744.8 L892.0,744.7 L892.8,744.7 L893.5,744.7 L894.2,744.6 L895.0,744.6 L895.8,744.5 L896.5,744.5 L897.2,744.4 L898.0,744.4 L898.8,744.3 L899.5,744.3 L900.2,744.2 L901.0,744.2 L901.8,744.2 L902.5,744.1 L903.2,744.1 L904.0,744.0 L904.8,744.0 L905.5,743.9 L906.2,743.9 L907.0,743.8 L907.8,743.8 L908.5,743.8 L909.2,743.7 L910.0,743.7 L910.8,743.6 L911.5,743.6 L912.2,743.5 L913.0,743.5 L913.8,743.4 L914.5,743.4 L915.2,743.4 L916.0,743.3 L916.8,743.3 L917.5,743.2 L918.2,743.2 L919.0,743.1 L919.8,743.1 L920.5,743.0 L921.2,743.0 L922.0,743.0 L922.8,742.9 L923.5,742.9 L924.2,742.8 L925.0,742.8 L925.8,742.7 L926.5,742.7 L927.2,742.6 L928.0,742.6 L928.8,742.6 L929.5,742.5 L930.2,742.5 L931.0,742.4 L931.8,742.4 L932.5,742.3 L933.2,742.3 L934.0,742.2 L934.8,742.2 L935.5,742.2 L936.2,742.1 L937.0,742.1 L937.8,742.0 L938.5,742.0 L939.2,741.9 L940.0,741.9 L940.8,741.8 L941.5,741.8 L942.2,741.7 L943.0,741.7 L943.8,741.7 L944.5,741.6 L945.2,741.6 L946.0,741.5 L946.8,741.5 L947.5,741.4 L948.0,741.4 L948.2,741.4 L949.0,741.3 L949.8,741.3 L950.5,741.2 L951.2,741.2 L952.0,741.2 L952.8,741.1 L953.5,741.1 L954.2,741.0 L955.0,741.0 L955.8,740.9 L956.5,740.9 L957.2,740.8 L958.0,740.8 L958.8,740.7 L959.5,740.7 L960.2,740.7 L961.0,740.6 L961.8,740.6 L962.5,740.5 L963.2,740.5 L964.0,740.4 L964.8,740.4 L965.5,740.3 L966.2,740.3 L967.0,740.2 L967.8,740.2 L968.5,740.1 L969.2,740.1 L970.0,740.1 L970.8,740.0 L971.5,740.0 L972.2,739.9 L973.0,739.9 L973.8,739.8 L974.5,739.8 L975.2,739.7 L976.0,739.7 L976.8,739.6 L977.5,739.6 L978.2,739.6 L979.0,739.5 L979.8,739.5 L980.5,739.4 L981.2,739.4 L982.0,739.3 L982.8,739.3 L983.5,739.2 L984.2,739.2 L985.0,739.1 L985.8,739.1 L986.5,739.0 L987.2,739.0 L988.0,738.9 L988.8,738.9 L989.5,738.9 L990.2,738.8 L991.0,738.8 L991.8,738.7 L992.5,738.7 L993.2,738.6 L994.0,738.6 L994.8,738.5 L995.5,738.5 L996.2,738.4 L997.0,738.4 L997.8,738.3 L998.5,738.3 L999.2,738.3 L1000.0,738.2 L1000.8,738.2 L1001.5,738.1 L1002.2,738.1 L1003.0,738.0 L1003.8,738.0 L1004.5,737.9 L1005.2,737.9 L1006.0,737.8 L1006.8,737.8 L1007.5,737.7 L1008.2,737.7 L1009.0,737.6 L1009.8,737.6 L1010.5,737.6 L1011.2,737.5 L1012.0,737.5 L1012.8,737.4 L1013.5,737.4 L1014.2,737.3 L1015.0,737.3 L1015.8,737.2 L1016.5,737.2 L1017.2,737.1 L1018.0,737.1 L1018.8,737.0 L1019.5,737.0 L1020.2,736.9 L1021.0,736.9 L1021.8,736.8 L1022.5,736.8 L1023.2,736.8 L1024.0,736.7 L1024.8,736.7 L1025.5,736.6 L1026.2,736.6 L1027.0,736.5 L1027.8,736.5 L1028.5,736.4 L1029.2,736.4 L1030.0,736.3 L1030.8,736.3 L1031.5,736.2 L1032.2,736.2 L1033.0,736.1 L1033.8,736.1 L1034.5,736.0 L1035.2,736.0 L1036.0,735.9 L1036.8,735.9 L1037.5,735.9 L1038.2,735.8 L1038.3,735.8" fill="none" stroke="#FFC000" stroke-width="5.1" stroke-linejoin="round" stroke-linecap="round"/>
<polygon points="188.2,799.1 189.5,776.1 190.3,746.0 191.2,742.3 191.9,741.5 192.6,742.3 193.3,746.0 193.6,761.4 195.4,764.4 196.4,776.1 197.4,799.1" fill="#4472C4" stroke="none"/>
<path d="M149.2,799.1 L184.0,799.1 L188.2,799.1 L189.5,776.1 L190.3,746.0 L191.2,742.3 L191.9,741.5 L192.6,742.3 L193.3,746.0 L193.6,761.4 L195.4,764.4 L196.4,776.1 L197.4,799.1 L205.0,799.1 L205.8,799.1 L206.5,799.1 L207.2,799.1 L208.0,799.1 L208.8,799.1 L209.5,799.1 L210.2,799.1 L211.0,799.1 L211.8,799.1 L212.5,799.1 L213.2,799.1 L214.0,799.1 L214.8,799.1 L215.5,799.1 L216.2,799.1 L217.0,799.1 L217.8,799.1 L218.5,799.1 L219.2,799.1 L220.0,799.1 L220.8,799.1 L221.5,799.1 L222.2,799.1 L223.0,799.1 L223.8,799.1 L224.5,799.1 L225.2,799.1 L226.0,799.1 L226.8,799.1 L227.5,799.1 L228.2,799.1 L229.0,799.1 L229.8,799.1 L230.5,799.1 L231.2,799.1 L232.0,799.1 L232.8,799.1 L233.5,799.1 L234.2,799.1 L235.0,799.1 L235.8,799.1 L236.5,799.1 L237.2,799.1 L238.0,799.1 L238.8,799.1 L239.5,799.1 L240.2,799.1 L241.0,799.1 L241.8,799.1 L242.5,799.1 L243.2,799.1 L244.0,799.1 L244.8,799.1 L245.5,799.1 L246.2,799.1 L247.0,799.1 L247.8,799.1 L248.5,799.1 L249.2,799.1 L250.0,799.1 L250.8,799.1 L251.5,799.1 L252.2,799.1 L253.0,799.1 L253.8,799.1 L254.5,799.1 L255.2,799.1 L256.0,799.1 L256.8,799.1 L257.5,799.1 L258.2,799.1 L259.0,799.1 L259.8,799.1 L260.5,799.1 L261.2,799.1 L262.0,799.1 L262.8,799.1 L263.5,799.1 L264.2,799.1 L265.0,799.1 L265.8,799.1 L266.5,799.1 L267.2,799.1 L268.0,799.1 L268.8,799.1 L269.5,799.1 L270.2,799.1 L271.0,799.1 L271.8,799.1 L272.5,799.1 L273.2,799.1 L274.0,799.1 L274.8,799.1 L275.5,799.1 L276.2,799.1 L277.0,799.1 L277.8,799.1 L278.5,799.1 L279.2,799.1 L280.0,799.1 L280.8,799.1 L281.5,799.1 L282.2,799.1 L283.0,799.1 L283.8,799.1 L284.5,799.1 L285.2,799.1 L286.0,799.1 L286.8,799.1 L287.5,799.1 L288.2,799.1 L289.0,799.1 L289.8,799.1 L290.5,799.1 L291.2,799.1 L292.0,799.1 L292.8,799.1 L293.5,799.1 L294.2,799.1 L295.0,799.1 L295.8,799.1 L296.5,799.1 L297.2,799.1 L298.0,799.1 L298.8,799.1 L299.5,799.1 L300.0,799.1 L300.2,799.1 L301.0,799.1 L301.8,799.1 L302.5,799.1 L303.2,799.1 L304.0,799.1 L304.8,799.1 L305.5,799.1 L306.2,799.1 L307.0,799.1 L307.8,799.1 L308.5,799.1 L309.2,799.1 L310.0,799.1 L310.8,799.1 L311.5,799.1 L312.2,799.1 L313.0,799.1 L313.8,799.1 L314.5,799.1 L315.2,799.1 L316.0,799.1 L316.8,799.1 L317.5,799.1 L318.2,799.1 L319.0,799.1 L319.8,799.1 L320.5,799.1 L321.2,799.1 L322.0,799.1 L322.8,799.1 L323.5,799.1 L324.2,799.1 L325.0,799.1 L325.8,799.1 L326.5,799.1 L327.2,799.1 L328.0,799.1 L328.8,799.1 L329.5,799.1 L330.2,799.1 L331.0,799.1 L331.8,799.1 L332.5,799.1 L333.2,799.1 L334.0,799.1 L334.8,799.1 L335.5,799.1 L336.2,799.1 L337.0,799.1 L337.8,799.1 L338.5,799.1 L339.2,799.1 L340.0,799.1 L340.8,799.1 L341.5,799.1 L342.2,799.1 L343.0,799.1 L343.8,799.1 L344.5,799.1 L345.2,799.1 L346.0,799.1 L346.8,799.1 L347.5,799.1 L348.2,799.1 L349.0,799.1 L349.8,799.1 L350.5,799.1 L351.2,799.1 L352.0,799.1 L352.8,799.1 L353.5,799.1 L354.2,799.1 L355.0,799.1 L355.8,799.1 L356.5,799.1 L357.2,799.1 L358.0,799.1 L358.8,799.1 L359.5,799.1 L360.2,799.1 L361.0,799.1 L361.8,799.1 L362.5,799.1 L363.2,799.1 L364.0,799.1 L364.8,799.1 L365.5,799.1 L366.2,799.1 L367.0,799.1 L367.8,799.1 L368.5,799.1 L369.2,799.1 L370.0,799.1 L370.8,799.1 L371.5,799.1 L372.2,799.1 L373.0,799.1 L373.8,799.1 L374.5,799.1 L375.2,799.1 L376.0,799.1 L376.8,799.1 L377.5,799.1 L378.2,799.1 L379.0,799.1 L379.8,799.1 L380.0,799.1 L380.5,799.1 L381.2,799.1 L382.0,799.1 L382.8,799.0 L383.5,799.0 L384.2,799.0 L385.0,798.9 L385.8,798.9 L386.5,798.8 L387.2,798.8 L388.0,798.7 L388.8,798.7 L389.5,798.6 L390.2,798.5 L391.0,798.5 L391.8,798.4 L392.5,798.3 L393.2,798.2 L394.0,798.2 L394.8,798.1 L395.5,798.0 L396.2,797.9 L397.0,797.9 L397.8,797.8 L398.5,797.7 L399.2,797.7 L400.0,797.6 L400.8,797.5 L401.5,797.5 L402.2,797.4 L403.0,797.4 L403.8,797.3 L404.5,797.2 L405.2,797.2 L406.0,797.1 L406.8,797.0 L407.5,797.0 L408.2,796.9 L409.0,796.8 L409.8,796.8 L410.5,796.7 L411.2,796.7 L412.0,796.6 L412.8,796.5 L413.5,796.5 L414.2,796.4 L415.0,796.3 L415.8,796.3 L416.5,796.2 L417.2,796.1 L418.0,796.1 L418.8,796.0 L419.5,795.9 L420.2,795.9 L421.0,795.8 L421.8,795.7 L422.5,795.6 L423.2,795.6 L424.0,795.5 L424.8,795.4 L425.5,795.4 L426.2,795.3 L427.0,795.2 L427.8,795.2 L428.5,795.1 L429.2,795.0 L430.0,795.0 L430.8,794.9 L431.5,794.8 L432.2,794.7 L433.0,794.7 L433.8,794.6 L434.5,794.5 L435.2,794.4 L436.0,794.4 L436.8,794.3 L437.5,794.2 L438.2,794.2 L439.0,794.1 L439.8,794.0 L440.5,793.9 L441.2,793.9 L442.0,793.8 L442.8,793.7 L443.5,793.6 L444.2,793.6 L445.0,793.5 L445.8,793.4 L446.5,793.3 L447.2,793.3 L448.0,793.2 L448.8,793.1 L449.5,793.1 L450.0,793.0 L450.2,793.0 L451.0,792.9 L451.8,792.8 L452.5,792.7 L453.2,792.7 L454.0,792.6 L454.8,792.5 L455.5,792.4 L456.2,792.4 L457.0,792.3 L457.8,792.2 L458.5,792.1 L459.2,792.1 L460.0,792.0 L460.8,791.9 L461.5,791.8 L462.2,791.7 L463.0,791.7 L463.8,791.6 L464.5,791.5 L465.2,791.4 L466.0,791.3 L466.8,791.3 L467.5,791.2 L468.2,791.1 L469.0,791.0 L469.8,790.9 L470.5,790.9 L471.2,790.8 L472.0,790.7 L472.8,790.6 L473.5,790.5 L474.2,790.4 L475.0,790.4 L475.8,790.3 L476.5,790.2 L477.2,790.1 L478.0,790.0 L478.8,789.9 L479.5,789.9 L480.2,789.8 L481.0,789.7 L481.8,789.6 L482.5,789.5 L483.2,789.4 L484.0,789.4 L484.8,789.3 L485.5,789.2 L486.2,789.1 L487.0,789.0 L487.8,788.9 L488.5,788.8 L489.2,788.8 L490.0,788.7 L490.8,788.6 L491.5,788.5 L492.2,788.4 L493.0,788.3 L493.8,788.2 L494.5,788.2 L495.2,788.1 L496.0,788.0 L496.8,787.9 L497.5,787.8 L498.2,787.7 L499.0,787.6 L499.8,787.6 L500.5,787.5 L501.2,787.4 L502.0,787.3 L502.8,787.2 L503.5,787.1 L504.2,787.0 L505.0,786.9 L505.8,786.9 L506.5,786.8 L507.2,786.7 L508.0,786.6 L508.8,786.5 L509.5,786.4 L510.2,786.3 L511.0,786.2 L511.8,786.2 L512.5,786.1 L513.2,786.0 L514.0,785.9 L514.8,785.8 L515.5,785.7 L516.2,785.6 L517.0,785.5 L517.8,785.5 L518.5,785.4 L519.2,785.3 L520.0,785.2 L520.8,785.1 L521.5,785.0 L522.2,784.9 L523.0,784.9 L523.8,784.8 L524.5,784.7 L525.2,784.6 L526.0,784.5 L526.8,784.4 L527.5,784.4 L528.2,784.3 L529.0,784.2 L529.8,784.1 L530.5,784.0 L531.2,783.9 L532.0,783.9 L532.8,783.8 L533.5,783.7 L534.2,783.6 L535.0,783.5 L535.8,783.5 L536.5,783.4 L537.2,783.3 L538.0,783.2 L538.8,783.1 L539.5,783.0 L540.2,783.0 L541.0,782.9 L541.8,782.8 L542.5,782.7 L543.2,782.6 L544.0,782.5 L544.8,782.5 L545.5,782.4 L546.2,782.3 L547.0,782.2 L547.8,782.1 L548.5,782.0 L549.2,781.9 L550.0,781.8 L550.8,781.7 L551.5,781.6 L552.2,781.5 L553.0,781.4 L553.8,781.3 L554.5,781.2 L555.2,781.1 L556.0,781.0 L556.8,780.9 L557.5,780.8 L558.2,780.7 L559.0,780.6 L559.8,780.5 L560.5,780.4 L561.2,780.3 L562.0,780.2 L562.8,780.0 L563.0,780.0 L563.5,779.9 L564.2,779.8 L565.0,779.7 L565.8,779.5 L566.5,779.4 L567.2,779.3 L568.0,779.1 L568.8,779.0 L569.5,778.8 L570.2,778.7 L571.0,778.5 L571.8,778.4 L572.5,778.2 L573.2,778.1 L574.0,777.9 L574.8,777.7 L575.5,777.6 L576.2,777.4 L577.0,777.2 L577.8,777.0 L578.5,776.9 L579.2,776.7 L580.0,776.5 L580.8,776.3 L581.5,776.1 L582.2,775.8 L583.0,775.5 L583.8,775.3 L584.5,775.0 L585.2,774.7 L586.0,774.5 L586.8,774.2 L587.5,774.0 L588.2,773.9 L589.0,773.8 L589.6,773.8 L589.8,773.8 L590.5,773.8 L591.2,773.8 L592.0,773.8 L592.8,773.9 L593.5,773.9 L594.2,773.9 L595.0,773.9 L595.8,774.0 L596.5,774.0 L597.2,774.0 L598.0,774.0 L598.8,773.9 L599.5,773.7 L600.2,773.5 L601.0,773.1 L601.8,772.7 L602.5,772.3 L603.0,772.0 L603.2,771.9 L604.0,771.3 L604.8,770.6 L605.5,769.9 L606.2,769.1 L607.0,768.3 L607.8,767.6 L608.5,767.0 L609.2,766.4 L610.0,765.8 L610.8,765.3 L611.5,764.7 L612.2,764.3 L613.0,764.1 L613.6,764.0 L613.8,764.0 L614.5,764.1 L615.2,764.5 L616.0,764.9 L616.8,765.5 L617.5,766.2 L618.2,766.9 L619.0,767.6 L619.8,768.4 L620.5,769.0 L621.2,769.6 L622.0,770.1 L622.8,770.4 L623.5,770.6 L623.7,770.6 L624.2,770.5 L625.0,770.2 L625.8,769.7 L626.5,769.0 L627.2,768.1 L628.0,767.0 L628.8,765.9 L629.5,764.6 L630.2,763.3 L631.0,761.9 L631.8,760.5 L632.5,759.1 L633.2,757.8 L634.0,756.5 L634.8,755.3 L635.5,754.2 L636.2,753.2 L637.0,752.4 L637.8,751.8 L638.5,751.4 L639.2,751.2 L639.4,751.2 L640.0,751.3 L640.8,751.9 L641.5,752.7 L642.2,753.9 L643.0,755.2 L643.8,756.7 L644.5,758.2 L645.2,759.7 L646.0,761.2 L646.8,762.5 L647.5,763.7 L648.2,764.5 L649.0,765.1 L649.6,765.2 L649.8,765.2 L650.5,764.9 L651.2,764.3 L652.0,763.4 L652.8,762.2 L653.5,760.8 L654.2,759.2 L655.0,757.4 L655.8,755.4 L656.5,753.4 L657.2,751.4 L658.0,749.3 L658.8,747.2 L659.5,745.1 L660.2,743.2 L661.0,741.4 L661.8,739.7 L662.5,738.2 L663.2,737.0 L664.0,736.0 L664.8,735.4 L665.5,735.0 L665.8,735.0 L666.2,735.2 L667.0,736.3 L667.8,738.1 L668.5,740.2 L669.2,742.6 L670.0,744.8 L670.8,746.5 L671.0,747.0 L671.5,747.8 L672.2,748.9 L673.0,749.9 L673.8,750.8 L674.5,751.7 L675.2,752.5 L675.3,752.5 L676.0,753.2 L676.8,753.8 L677.5,754.4 L678.2,754.9 L679.0,755.5 L679.8,756.1 L680.5,756.6 L681.2,757.2 L682.0,757.7 L682.8,758.2 L683.5,758.7 L684.0,759.0 L684.2,759.2 L685.0,759.7 L685.8,760.2 L686.5,760.8 L687.2,761.3 L688.0,761.7 L688.8,762.1 L689.5,762.4 L690.2,762.6 L690.6,762.6 L691.0,762.6 L691.8,762.5 L692.5,762.2 L693.2,761.9 L694.0,761.5 L694.8,761.0 L695.5,760.4 L696.2,759.8 L697.0,759.2 L697.8,758.5 L698.5,757.9 L699.2,757.2 L700.0,756.6 L700.8,756.0 L701.5,755.4 L702.2,754.9 L703.0,754.4 L703.8,754.0 L704.5,753.7 L705.2,753.6 L706.0,753.5 L706.8,753.6 L707.5,753.8 L708.2,754.2 L709.0,754.7 L709.8,755.3 L710.5,756.0 L711.2,756.7 L712.0,757.4 L712.8,758.1 L713.5,758.8 L714.2,759.5 L715.0,760.0 L715.8,760.5 L716.5,760.8 L717.2,761.0 L717.3,761.0 L718.0,761.1 L718.8,761.2 L719.5,761.3 L720.2,761.3 L721.0,761.4 L721.8,761.5 L722.5,761.6 L723.2,761.6 L724.0,761.7 L724.8,761.7 L725.5,761.8 L726.2,761.8 L727.0,761.9 L727.8,761.9 L728.5,761.9 L729.2,762.0 L730.0,762.0 L730.8,762.0 L731.5,762.0 L732.2,762.0 L732.4,762.0 L733.0,762.0 L733.8,762.0 L734.5,762.0 L735.2,761.9 L736.0,761.9 L736.8,761.8 L737.5,761.7 L738.2,761.6 L739.0,761.5 L739.8,761.4 L740.5,761.3 L741.2,761.2 L742.0,761.1 L742.8,761.0 L743.5,760.8 L744.2,760.7 L745.0,760.5 L745.8,760.4 L746.5,760.2 L747.2,760.1 L748.0,759.9 L748.8,759.7 L749.5,759.6 L750.2,759.4 L751.0,759.2 L751.8,759.0 L752.5,758.8 L753.2,758.7 L754.0,758.5 L754.8,758.3 L755.5,758.1 L756.2,758.0 L757.0,757.8 L757.8,757.6 L758.5,757.5 L759.2,757.3 L760.0,757.1 L760.8,757.0 L761.5,756.8 L762.2,756.7 L763.0,756.5 L763.8,756.4 L764.5,756.3 L765.2,756.2 L766.0,756.1 L766.8,756.0 L767.5,755.9 L768.2,755.8 L769.0,755.7 L769.8,755.6 L770.5,755.6 L771.2,755.6 L772.0,755.5 L772.8,755.5 L773.4,755.5 L773.5,755.5 L774.2,755.6 L775.0,755.7 L775.8,755.9 L776.5,756.2 L777.2,756.6 L778.0,757.0 L778.8,757.4 L779.5,757.8 L780.2,758.2 L781.0,758.5 L781.8,758.9 L782.5,759.2 L783.2,759.4 L784.0,759.6 L784.8,759.7 L785.0,759.7 L785.5,759.7 L786.2,759.7 L787.0,759.7 L787.8,759.7 L788.5,759.7 L789.2,759.7 L790.0,759.7 L790.8,759.7 L791.5,759.7 L792.2,759.7 L793.0,759.7 L793.8,759.7 L794.5,759.7 L795.2,759.7 L796.0,759.7 L796.8,759.6 L797.5,759.6 L798.2,759.6 L799.0,759.6 L799.8,759.6 L800.5,759.6 L801.2,759.6 L802.0,759.6 L802.8,759.6 L803.5,759.6 L804.2,759.6 L805.0,759.5 L805.8,759.5 L806.5,759.5 L807.2,759.5 L808.0,759.5 L808.8,759.5 L809.5,759.5 L810.2,759.4 L811.0,759.4 L811.8,759.4 L812.5,759.3 L813.2,759.3 L814.0,759.2 L814.8,759.2 L815.5,759.1 L816.2,759.0 L817.0,759.0 L817.8,758.9 L818.5,758.8 L819.2,758.8 L820.0,758.7 L820.8,758.6 L821.5,758.6 L822.2,758.5 L823.0,758.4 L823.8,758.4 L824.5,758.3 L825.2,758.3 L826.0,758.2 L826.8,758.1 L827.5,758.1 L828.2,758.0 L829.0,758.0 L829.8,757.9 L830.5,757.9 L831.2,757.8 L832.0,757.8 L832.8,757.7 L833.5,757.7 L834.2,757.6 L835.0,757.5 L835.8,757.5 L836.5,757.4 L837.2,757.4 L838.0,757.3 L838.8,757.3 L839.5,757.2 L840.2,757.2 L841.0,757.1 L841.8,757.0 L842.5,757.0 L843.2,756.9 L844.0,756.9 L844.8,756.8 L845.5,756.8 L846.2,756.7 L847.0,756.7 L847.8,756.6 L848.5,756.6 L849.2,756.5 L850.0,756.4 L850.8,756.4 L851.5,756.3 L852.2,756.3 L853.0,756.2 L853.8,756.2 L854.5,756.1 L855.2,756.1 L856.0,756.0 L856.8,755.9 L857.5,755.9 L858.2,755.8 L859.0,755.8 L859.8,755.7 L860.5,755.7 L861.2,755.6 L862.0,755.6 L862.8,755.5 L863.5,755.4 L864.2,755.4 L865.0,755.3 L865.8,755.3 L866.5,755.2 L867.2,755.2 L868.0,755.1 L868.8,755.1 L869.5,755.0 L870.2,754.9 L871.0,754.9 L871.8,754.8 L872.5,754.8 L873.2,754.7 L874.0,754.7 L874.8,754.6 L875.5,754.6 L876.2,754.5 L877.0,754.4 L877.8,754.4 L878.5,754.3 L879.2,754.3 L880.0,754.2 L880.8,754.2 L881.5,754.1 L882.2,754.1 L883.0,754.0 L883.8,753.9 L884.5,753.9 L885.2,753.8 L886.0,753.8 L886.8,753.7 L887.5,753.7 L888.2,753.6 L889.0,753.5 L889.8,753.5 L890.5,753.4 L891.0,753.4 L891.2,753.4 L892.0,753.3 L892.8,753.3 L893.5,753.2 L894.2,753.2 L895.0,753.1 L895.8,753.0 L896.5,753.0 L897.2,752.9 L898.0,752.9 L898.8,752.8 L899.5,752.8 L900.2,752.7 L901.0,752.7 L901.8,752.6 L902.5,752.5 L903.2,752.5 L904.0,752.4 L904.8,752.4 L905.5,752.3 L906.2,752.3 L907.0,752.2 L907.8,752.1 L908.5,752.1 L909.2,752.0 L910.0,752.0 L910.8,751.9 L911.5,751.9 L912.2,751.8 L913.0,751.8 L913.8,751.7 L914.5,751.6 L915.2,751.6 L916.0,751.5 L916.8,751.5 L917.5,751.4 L918.2,751.4 L919.0,751.3 L919.8,751.2 L920.5,751.2 L921.2,751.1 L922.0,751.1 L922.8,751.0 L923.5,751.0 L924.2,750.9 L925.0,750.8 L925.8,750.8 L926.5,750.7 L927.2,750.7 L928.0,750.6 L928.8,750.6 L929.5,750.5 L930.2,750.5 L931.0,750.4 L931.8,750.3 L932.5,750.3 L933.2,750.2 L934.0,750.2 L934.8,750.1 L935.5,750.1 L936.2,750.0 L937.0,749.9 L937.8,749.9 L938.5,749.8 L939.2,749.8 L940.0,749.7 L940.8,749.7 L941.5,749.6 L942.2,749.5 L943.0,749.5 L943.8,749.4 L944.5,749.4 L945.2,749.3 L946.0,749.3 L946.8,749.2 L947.5,749.2 L948.2,749.1 L949.0,749.0 L949.8,749.0 L950.5,748.9 L951.2,748.9 L952.0,748.8 L952.8,748.8 L953.5,748.7 L954.2,748.6 L955.0,748.6 L955.8,748.5 L956.5,748.5 L957.2,748.4 L958.0,748.4 L958.8,748.3 L959.5,748.2 L960.2,748.2 L961.0,748.1 L961.8,748.1 L962.5,748.0 L963.2,748.0 L964.0,747.9 L964.8,747.8 L965.5,747.8 L966.2,747.7 L967.0,747.7 L967.8,747.6 L968.5,747.6 L969.2,747.5 L970.0,747.4 L970.8,747.4 L971.5,747.3 L972.2,747.3 L973.0,747.2 L973.8,747.2 L974.5,747.1 L975.2,747.0 L976.0,747.0 L976.8,746.9 L977.5,746.9 L978.2,746.8 L979.0,746.8 L979.8,746.7 L980.5,746.6 L981.2,746.6 L982.0,746.5 L982.8,746.5 L983.5,746.4 L984.2,746.4 L985.0,746.3 L985.8,746.2 L986.5,746.2 L987.2,746.1 L988.0,746.1 L988.8,746.0 L989.5,746.0 L990.2,745.9 L991.0,745.8 L991.8,745.8 L992.5,745.7 L993.2,745.7 L994.0,745.6 L994.8,745.6 L995.5,745.5 L996.2,745.4 L997.0,745.4 L997.8,745.3 L998.5,745.3 L999.2,745.2 L1000.0,745.2 L1000.8,745.1 L1001.5,745.0 L1002.2,745.0 L1003.0,744.9 L1003.8,744.9 L1004.5,744.8 L1005.2,744.8 L1006.0,744.7 L1006.8,744.6 L1007.5,744.6 L1008.2,744.5 L1009.0,744.5 L1009.8,744.4 L1010.5,744.3 L1011.2,744.3 L1012.0,744.2 L1012.8,744.2 L1013.5,744.1 L1014.2,744.1 L1015.0,744.0 L1015.8,743.9 L1016.5,743.9 L1017.2,743.8 L1018.0,743.8 L1018.8,743.7 L1019.5,743.7 L1020.2,743.6 L1021.0,743.5 L1021.8,743.5 L1022.5,743.4 L1023.2,743.4 L1024.0,743.3 L1024.8,743.2 L1025.5,743.2 L1026.2,743.1 L1027.0,743.1 L1027.8,743.0 L1028.5,743.0 L1029.2,742.9 L1030.0,742.8 L1030.8,742.8 L1031.5,742.7 L1032.2,742.7 L1033.0,742.6 L1033.8,742.6 L1034.5,742.5 L1035.2,742.4 L1036.0,742.4 L1036.8,742.3 L1037.5,742.3 L1038.2,742.2 L1038.3,742.2" fill="none" stroke="#4472C4" stroke-width="5.1" stroke-linejoin="round" stroke-linecap="round"/>
<polygon points="188.2,799.5 189.5,784.5 190.3,766.5 191.2,762.8 191.9,762.0 192.6,762.8 193.3,766.5 193.6,774.9 195.4,777.9 196.4,784.5 197.4,799.5" fill="#70AD47" stroke="none"/>
<path d="M149.2,799.5 L184.0,799.5 L188.2,799.5 L189.5,784.5 L190.3,766.5 L191.2,762.8 L191.9,762.0 L192.6,762.8 L193.3,766.5 L193.6,774.9 L195.4,777.9 L196.4,784.5 L197.4,799.5 L205.0,799.5 L205.8,799.5 L206.5,799.5 L207.2,799.5 L208.0,799.5 L208.8,799.5 L209.5,799.5 L210.2,799.5 L211.0,799.5 L211.8,799.5 L212.5,799.5 L213.2,799.5 L214.0,799.5 L214.8,799.5 L215.5,799.5 L216.2,799.5 L217.0,799.5 L217.8,799.5 L218.5,799.5 L219.2,799.5 L220.0,799.5 L220.8,799.5 L221.5,799.5 L222.2,799.5 L223.0,799.5 L223.8,799.5 L224.5,799.5 L225.2,799.5 L226.0,799.5 L226.8,799.5 L227.5,799.5 L228.2,799.5 L229.0,799.5 L229.8,799.5 L230.5,799.5 L231.2,799.5 L232.0,799.5 L232.8,799.5 L233.5,799.5 L234.2,799.5 L235.0,799.5 L235.8,799.5 L236.5,799.5 L237.2,799.5 L238.0,799.5 L238.8,799.5 L239.5,799.5 L240.2,799.5 L241.0,799.5 L241.8,799.5 L242.5,799.5 L243.2,799.5 L244.0,799.5 L244.8,799.5 L245.5,799.5 L246.2,799.5 L247.0,799.5 L247.8,799.5 L248.5,799.5 L249.2,799.5 L250.0,799.5 L250.8,799.5 L251.5,799.5 L252.2,799.5 L253.0,799.5 L253.8,799.5 L254.5,799.5 L255.2,799.5 L256.0,799.5 L256.8,799.5 L257.5,799.5 L258.2,799.5 L259.0,799.5 L259.8,799.5 L260.5,799.5 L261.2,799.5 L262.0,799.5 L262.8,799.5 L263.5,799.5 L264.2,799.5 L265.0,799.5 L265.8,799.5 L266.5,799.5 L267.2,799.5 L268.0,799.5 L268.8,799.5 L269.5,799.5 L270.2,799.5 L271.0,799.5 L271.8,799.5 L272.5,799.5 L273.2,799.5 L274.0,799.5 L274.8,799.5 L275.5,799.5 L276.2,799.5 L277.0,799.5 L277.8,799.5 L278.5,799.5 L279.2,799.5 L280.0,799.5 L280.8,799.5 L281.5,799.5 L282.2,799.5 L283.0,799.5 L283.8,799.5 L284.5,799.5 L285.2,799.5 L286.0,799.5 L286.8,799.5 L287.5,799.5 L288.2,799.5 L289.0,799.5 L289.8,799.5 L290.5,799.5 L291.2,799.5 L292.0,799.5 L292.8,799.5 L293.5,799.5 L294.2,799.5 L295.0,799.5 L295.8,799.5 L296.5,799.5 L297.2,799.5 L298.0,799.5 L298.8,799.5 L299.5,799.5 L300.0,799.5 L300.2,799.5 L301.0,799.5 L301.8,799.5 L302.5,799.5 L303.2,799.5 L304.0,799.5 L304.8,799.5 L305.5,799.5 L306.2,799.5 L307.0,799.5 L307.8,799.5 L308.5,799.5 L309.2,799.5 L310.0,799.5 L310.8,799.5 L311.5,799.5 L312.2,799.5 L313.0,799.5 L313.8,799.5 L314.5,799.5 L315.2,799.5 L316.0,799.5 L316.8,799.5 L317.5,799.5 L318.2,799.5 L319.0,799.5 L319.8,799.5 L320.5,799.5 L321.2,799.5 L322.0,799.5 L322.8,799.5 L323.5,799.5 L324.2,799.5 L325.0,799.5 L325.8,799.5 L326.5,799.5 L327.2,799.5 L328.0,799.5 L328.8,799.5 L329.5,799.5 L330.2,799.5 L331.0,799.5 L331.8,799.5 L332.5,799.5 L333.2,799.5 L334.0,799.5 L334.8,799.5 L335.5,799.5 L336.2,799.5 L337.0,799.5 L337.8,799.5 L338.5,799.5 L339.2,799.5 L340.0,799.5 L340.8,799.5 L341.5,799.5 L342.2,799.5 L343.0,799.5 L343.8,799.5 L344.5,799.5 L345.2,799.5 L346.0,799.5 L346.8,799.5 L347.5,799.5 L348.2,799.5 L349.0,799.5 L349.8,799.5 L350.5,799.5 L351.2,799.5 L352.0,799.5 L352.8,799.5 L353.5,799.5 L354.2,799.5 L355.0,799.5 L355.8,799.5 L356.5,799.5 L357.2,799.5 L358.0,799.5 L358.8,799.5 L359.5,799.5 L360.2,799.5 L361.0,799.5 L361.8,799.5 L362.5,799.5 L363.2,799.5 L364.0,799.5 L364.8,799.5 L365.5,799.5 L366.2,799.5 L367.0,799.5 L367.8,799.5 L368.5,799.5 L369.2,799.5 L370.0,799.5 L370.8,799.5 L371.5,799.5 L372.2,799.5 L373.0,799.5 L373.8,799.5 L374.5,799.5 L375.2,799.5 L376.0,799.5 L376.8,799.5 L377.5,799.5 L378.0,799.5 L378.2,799.5 L379.0,799.5 L379.8,799.5 L380.5,799.4 L381.2,799.4 L382.0,799.4 L382.8,799.3 L383.5,799.2 L384.2,799.2 L385.0,799.1 L385.8,799.0 L386.5,798.9 L387.2,798.8 L388.0,798.8 L388.8,798.7 L389.5,798.6 L390.2,798.5 L391.0,798.4 L391.8,798.3 L392.5,798.2 L393.2,798.2 L394.0,798.1 L394.8,798.0 L395.0,798.0 L395.5,798.0 L396.2,797.9 L397.0,797.8 L397.8,797.8 L398.5,797.7 L399.2,797.6 L400.0,797.6 L400.8,797.5 L401.5,797.5 L402.2,797.4 L403.0,797.3 L403.8,797.3 L404.5,797.2 L405.2,797.2 L406.0,797.1 L406.8,797.0 L407.5,797.0 L408.2,796.9 L409.0,796.9 L409.8,796.8 L410.5,796.7 L411.2,796.7 L412.0,796.6 L412.8,796.6 L413.5,796.5 L414.2,796.5 L415.0,796.4 L415.8,796.3 L416.5,796.3 L417.2,796.2 L418.0,796.2 L418.8,796.1 L419.5,796.0 L420.2,796.0 L421.0,795.9 L421.8,795.9 L422.5,795.8 L423.2,795.8 L424.0,795.7 L424.8,795.6 L425.5,795.6 L426.2,795.5 L427.0,795.5 L427.8,795.4 L428.5,795.4 L429.2,795.3 L430.0,795.2 L430.8,795.2 L431.5,795.1 L432.2,795.1 L433.0,795.0 L433.8,794.9 L434.5,794.9 L435.2,794.8 L436.0,794.8 L436.8,794.7 L437.5,794.6 L438.2,794.6 L439.0,794.5 L439.8,794.5 L440.5,794.4 L441.2,794.3 L442.0,794.3 L442.8,794.2 L443.5,794.2 L444.2,794.1 L445.0,794.0 L445.8,794.0 L446.5,793.9 L447.2,793.8 L448.0,793.8 L448.8,793.7 L449.5,793.6 L450.0,793.6 L450.2,793.6 L451.0,793.5 L451.8,793.4 L452.5,793.4 L453.2,793.3 L454.0,793.2 L454.8,793.2 L455.5,793.1 L456.2,793.0 L457.0,793.0 L457.8,792.9 L458.5,792.8 L459.2,792.8 L460.0,792.7 L460.8,792.6 L461.5,792.6 L462.2,792.5 L463.0,792.4 L463.8,792.4 L464.5,792.3 L465.2,792.2 L466.0,792.2 L466.8,792.1 L467.5,792.0 L468.2,791.9 L469.0,791.9 L469.8,791.8 L470.5,791.7 L471.2,791.7 L472.0,791.6 L472.8,791.5 L473.5,791.4 L474.2,791.4 L475.0,791.3 L475.8,791.2 L476.5,791.2 L477.2,791.1 L478.0,791.0 L478.8,790.9 L479.5,790.9 L480.2,790.8 L481.0,790.7 L481.8,790.6 L482.5,790.6 L483.2,790.5 L484.0,790.4 L484.8,790.3 L485.5,790.3 L486.2,790.2 L487.0,790.1 L487.8,790.0 L488.5,790.0 L489.2,789.9 L490.0,789.8 L490.8,789.7 L491.5,789.7 L492.2,789.6 L493.0,789.5 L493.8,789.4 L494.5,789.4 L495.2,789.3 L496.0,789.2 L496.8,789.1 L497.5,789.1 L498.2,789.0 L499.0,788.9 L499.8,788.8 L500.0,788.8 L500.5,788.7 L501.2,788.7 L502.0,788.6 L502.8,788.5 L503.5,788.4 L504.2,788.4 L505.0,788.3 L505.8,788.2 L506.5,788.1 L507.2,788.0 L508.0,788.0 L508.8,787.9 L509.5,787.8 L510.2,787.7 L511.0,787.6 L511.8,787.5 L512.5,787.5 L513.2,787.4 L514.0,787.3 L514.8,787.2 L515.5,787.1 L516.2,787.0 L517.0,787.0 L517.8,786.9 L518.5,786.8 L519.2,786.7 L520.0,786.6 L520.8,786.5 L521.5,786.4 L522.2,786.3 L523.0,786.2 L523.8,786.1 L524.5,786.1 L525.2,786.0 L526.0,785.9 L526.8,785.8 L527.5,785.7 L528.2,785.6 L529.0,785.5 L529.8,785.4 L530.5,785.3 L531.2,785.2 L532.0,785.1 L532.8,785.0 L533.5,784.9 L534.2,784.8 L535.0,784.7 L535.8,784.6 L536.5,784.5 L537.2,784.4 L538.0,784.3 L538.8,784.2 L539.5,784.1 L540.2,784.0 L541.0,783.9 L541.8,783.8 L542.5,783.7 L543.2,783.6 L544.0,783.5 L544.8,783.4 L545.5,783.3 L546.2,783.2 L547.0,783.1 L547.8,783.0 L548.5,782.9 L549.2,782.8 L550.0,782.7 L550.8,782.6 L551.5,782.5 L552.2,782.3 L553.0,782.2 L553.8,782.1 L554.5,782.0 L555.2,781.9 L556.0,781.8 L556.8,781.7 L557.5,781.6 L558.2,781.5 L559.0,781.4 L559.8,781.3 L560.5,781.2 L561.2,781.1 L562.0,781.0 L562.8,780.9 L563.2,780.8 L563.5,780.8 L564.2,780.7 L565.0,780.6 L565.8,780.5 L566.5,780.4 L567.2,780.3 L568.0,780.2 L568.8,780.1 L569.5,780.0 L570.2,779.9 L571.0,779.8 L571.8,779.7 L572.5,779.6 L573.2,779.5 L574.0,779.5 L574.8,779.4 L575.5,779.3 L576.2,779.2 L577.0,779.1 L577.8,779.0 L578.5,778.9 L579.2,778.9 L580.0,778.8 L580.8,778.7 L581.5,778.6 L582.2,778.5 L583.0,778.4 L583.8,778.3 L584.5,778.2 L585.2,778.1 L586.0,778.0 L586.8,777.9 L587.5,777.8 L588.2,777.7 L589.0,777.6 L589.8,777.5 L590.5,777.3 L591.2,777.2 L592.0,777.1 L592.8,777.0 L593.5,776.8 L594.2,776.7 L595.0,776.6 L595.8,776.4 L596.5,776.3 L597.2,776.1 L598.0,775.9 L598.8,775.8 L599.5,775.6 L600.2,775.4 L601.0,775.3 L601.8,775.1 L602.0,775.0 L602.5,774.8 L603.2,774.5 L604.0,774.2 L604.8,773.7 L605.5,773.2 L606.2,772.7 L607.0,772.2 L607.8,771.7 L608.5,771.2 L609.2,770.7 L610.0,770.3 L610.8,770.0 L611.5,769.7 L612.2,769.5 L612.9,769.5 L613.0,769.5 L613.8,769.6 L614.5,769.7 L615.2,769.9 L616.0,770.2 L616.8,770.5 L617.5,770.8 L618.2,771.1 L619.0,771.5 L619.8,771.8 L620.5,772.1 L621.2,772.4 L622.0,772.6 L622.8,772.7 L623.5,772.8 L623.7,772.8 L624.2,772.8 L625.0,772.6 L625.8,772.4 L626.5,772.0 L627.2,771.6 L628.0,771.1 L628.8,770.5 L629.5,770.0 L630.2,769.4 L631.0,768.8 L631.8,768.2 L632.5,767.6 L633.2,767.0 L634.0,766.5 L634.8,766.1 L635.5,765.7 L636.2,765.4 L637.0,765.3 L637.7,765.2 L637.8,765.2 L638.5,765.3 L639.2,765.5 L640.0,765.8 L640.8,766.3 L641.5,766.8 L642.2,767.3 L643.0,767.9 L643.8,768.5 L644.5,769.1 L645.2,769.7 L646.0,770.3 L646.8,770.8 L647.5,771.2 L648.2,771.5 L649.0,771.7 L649.6,771.7 L649.8,771.7 L650.5,771.6 L651.2,771.3 L652.0,770.8 L652.8,770.2 L653.5,769.5 L654.2,768.7 L655.0,767.8 L655.8,766.8 L656.5,765.8 L657.2,764.8 L658.0,763.7 L658.8,762.7 L659.5,761.7 L660.2,760.7 L661.0,759.8 L661.8,759.0 L662.5,758.2 L663.2,757.6 L664.0,757.1 L664.8,756.8 L665.5,756.6 L665.8,756.6 L666.2,756.6 L667.0,756.8 L667.8,757.2 L668.5,757.7 L669.2,758.3 L670.0,758.9 L670.8,759.7 L671.5,760.5 L672.2,761.3 L673.0,762.1 L673.8,762.9 L674.5,763.7 L675.2,764.4 L676.0,765.0 L676.8,765.5 L677.5,765.9 L677.7,766.0 L678.2,766.2 L679.0,766.5 L679.8,766.7 L680.5,767.0 L681.2,767.2 L682.0,767.5 L682.8,767.7 L683.5,767.9 L684.2,768.1 L685.0,768.3 L685.8,768.5 L686.5,768.6 L687.2,768.7 L688.0,768.8 L688.8,768.9 L689.5,769.0 L690.2,769.0 L690.6,769.0 L691.0,769.0 L691.8,768.9 L692.5,768.8 L693.2,768.6 L694.0,768.3 L694.8,768.0 L695.5,767.7 L696.2,767.3 L697.0,766.9 L697.8,766.5 L698.5,766.1 L699.2,765.6 L700.0,765.2 L700.8,764.8 L701.5,764.3 L702.2,763.9 L703.0,763.6 L703.8,763.2 L704.5,762.9 L705.2,762.7 L706.0,762.5 L706.8,762.4 L707.5,762.3 L707.8,762.3 L708.2,762.3 L709.0,762.4 L709.8,762.4 L710.5,762.6 L711.2,762.7 L712.0,762.9 L712.8,763.1 L713.5,763.3 L714.2,763.6 L715.0,763.8 L715.8,764.1 L716.5,764.4 L717.2,764.7 L718.0,765.0 L718.8,765.3 L719.5,765.6 L720.2,765.9 L721.0,766.1 L721.8,766.4 L722.5,766.6 L723.2,766.9 L724.0,767.1 L724.8,767.2 L725.5,767.4 L726.2,767.5 L727.0,767.6 L727.8,767.6 L728.0,767.6 L728.5,767.6 L729.2,767.5 L730.0,767.4 L730.8,767.2 L731.5,767.0 L732.2,766.7 L733.0,766.4 L733.8,766.1 L734.5,765.8 L735.2,765.5 L736.0,765.1 L736.8,764.8 L737.5,764.5 L738.2,764.1 L739.0,763.9 L739.8,763.6 L740.5,763.4 L741.2,763.2 L742.0,763.1 L742.8,763.0 L743.2,763.0 L743.5,763.0 L744.2,763.0 L745.0,763.0 L745.8,763.0 L746.5,763.0 L747.2,763.0 L748.0,763.1 L748.8,763.1 L749.5,763.1 L750.2,763.1 L751.0,763.1 L751.8,763.1 L752.5,763.2 L753.2,763.2 L754.0,763.2 L754.8,763.2 L755.5,763.2 L756.0,763.2 L756.2,763.2 L757.0,763.2 L757.8,763.1 L758.5,762.9 L759.2,762.8 L760.0,762.6 L760.8,762.4 L761.5,762.1 L762.2,761.9 L763.0,761.6 L763.8,761.3 L764.5,761.0 L765.2,760.7 L766.0,760.4 L766.8,760.2 L767.5,759.9 L768.2,759.6 L769.0,759.4 L769.8,759.2 L770.5,759.0 L771.2,758.9 L772.0,758.8 L772.8,758.7 L773.4,758.7 L773.5,758.7 L774.2,758.7 L775.0,758.8 L775.8,758.9 L776.5,759.0 L777.2,759.2 L778.0,759.3 L778.8,759.4 L779.5,759.6 L780.2,759.7 L781.0,759.8 L781.8,759.8 L782.0,759.8 L782.5,759.8 L783.2,759.8 L784.0,759.8 L784.8,759.8 L785.5,759.8 L786.2,759.7 L787.0,759.7 L787.8,759.7 L788.5,759.7 L789.2,759.6 L790.0,759.6 L790.8,759.6 L791.5,759.5 L792.2,759.5 L793.0,759.5 L793.8,759.4 L794.5,759.4 L795.2,759.3 L796.0,759.3 L796.8,759.2 L797.5,759.2 L798.2,759.1 L799.0,759.1 L799.8,759.0 L800.5,759.0 L801.2,758.9 L802.0,758.9 L802.8,758.8 L803.5,758.8 L804.2,758.7 L805.0,758.7 L805.8,758.6 L806.5,758.6 L807.2,758.5 L808.0,758.5 L808.8,758.5 L809.5,758.4 L810.2,758.4 L811.0,758.3 L811.8,758.3 L812.5,758.2 L813.2,758.2 L814.0,758.1 L814.8,758.0 L815.5,758.0 L816.2,757.9 L817.0,757.9 L817.8,757.8 L818.5,757.8 L819.2,757.7 L820.0,757.7 L820.8,757.6 L821.5,757.5 L822.2,757.5 L823.0,757.4 L823.8,757.4 L824.5,757.3 L825.2,757.3 L826.0,757.2 L826.8,757.1 L827.5,757.1 L828.2,757.0 L829.0,757.0 L829.8,756.9 L830.5,756.9 L831.2,756.8 L832.0,756.8 L832.8,756.7 L833.5,756.7 L834.2,756.6 L835.0,756.5 L835.8,756.5 L836.5,756.4 L837.2,756.4 L838.0,756.3 L838.8,756.3 L839.5,756.2 L840.2,756.2 L841.0,756.1 L841.8,756.0 L842.5,756.0 L843.2,755.9 L844.0,755.9 L844.8,755.8 L845.5,755.8 L846.2,755.7 L847.0,755.7 L847.8,755.6 L848.5,755.6 L849.2,755.5 L850.0,755.4 L850.8,755.4 L851.5,755.3 L852.2,755.3 L853.0,755.2 L853.8,755.2 L854.5,755.1 L855.2,755.1 L856.0,755.0 L856.8,754.9 L857.5,754.9 L858.2,754.8 L859.0,754.8 L859.8,754.7 L860.5,754.7 L861.2,754.6 L862.0,754.6 L862.8,754.5 L863.5,754.4 L864.2,754.4 L865.0,754.3 L865.8,754.3 L866.5,754.2 L867.2,754.2 L868.0,754.1 L868.8,754.1 L869.5,754.0 L870.2,753.9 L871.0,753.9 L871.8,753.8 L872.5,753.8 L873.2,753.7 L874.0,753.7 L874.8,753.6 L875.5,753.6 L876.2,753.5 L877.0,753.4 L877.8,753.4 L878.5,753.3 L879.2,753.3 L880.0,753.2 L880.8,753.2 L881.5,753.1 L882.2,753.1 L883.0,753.0 L883.8,752.9 L884.5,752.9 L885.2,752.8 L886.0,752.8 L886.8,752.7 L887.5,752.7 L888.2,752.6 L889.0,752.5 L889.8,752.5 L890.5,752.4 L891.0,752.4 L891.2,752.4 L892.0,752.3 L892.8,752.3 L893.5,752.2 L894.2,752.2 L895.0,752.1 L895.8,752.0 L896.5,752.0 L897.2,751.9 L898.0,751.9 L898.8,751.8 L899.5,751.8 L900.2,751.7 L901.0,751.7 L901.8,751.6 L902.5,751.5 L903.2,751.5 L904.0,751.4 L904.8,751.4 L905.5,751.3 L906.2,751.3 L907.0,751.2 L907.8,751.2 L908.5,751.1 L909.2,751.0 L910.0,751.0 L910.8,750.9 L911.5,750.9 L912.2,750.8 L913.0,750.8 L913.8,750.7 L914.5,750.6 L915.2,750.6 L916.0,750.5 L916.8,750.5 L917.5,750.4 L918.2,750.4 L919.0,750.3 L919.8,750.3 L920.5,750.2 L921.2,750.1 L922.0,750.1 L922.8,750.0 L923.5,750.0 L924.2,749.9 L925.0,749.9 L925.8,749.8 L926.5,749.7 L927.2,749.7 L928.0,749.6 L928.8,749.6 L929.5,749.5 L930.2,749.5 L931.0,749.4 L931.8,749.4 L932.5,749.3 L933.2,749.2 L934.0,749.2 L934.8,749.1 L935.5,749.1 L936.2,749.0 L937.0,749.0 L937.8,748.9 L938.5,748.9 L939.2,748.8 L940.0,748.7 L940.8,748.7 L941.5,748.6 L942.2,748.6 L943.0,748.5 L943.8,748.5 L944.5,748.4 L945.2,748.3 L946.0,748.3 L946.8,748.2 L947.5,748.2 L948.2,748.1 L949.0,748.1 L949.8,748.0 L950.5,747.9 L951.2,747.9 L952.0,747.8 L952.8,747.8 L953.5,747.7 L954.2,747.7 L955.0,747.6 L955.8,747.6 L956.5,747.5 L957.2,747.4 L958.0,747.4 L958.8,747.3 L959.5,747.3 L960.2,747.2 L961.0,747.2 L961.8,747.1 L962.5,747.0 L963.2,747.0 L964.0,746.9 L964.8,746.9 L965.5,746.8 L966.2,746.8 L967.0,746.7 L967.8,746.7 L968.5,746.6 L969.2,746.5 L970.0,746.5 L970.8,746.4 L971.5,746.4 L972.2,746.3 L973.0,746.3 L973.8,746.2 L974.5,746.1 L975.2,746.1 L976.0,746.0 L976.8,746.0 L977.5,745.9 L978.2,745.9 L979.0,745.8 L979.8,745.7 L980.5,745.7 L981.2,745.6 L982.0,745.6 L982.8,745.5 L983.5,745.5 L984.2,745.4 L985.0,745.3 L985.8,745.3 L986.5,745.2 L987.2,745.2 L988.0,745.1 L988.8,745.1 L989.5,745.0 L990.2,745.0 L991.0,744.9 L991.8,744.8 L992.5,744.8 L993.2,744.7 L994.0,744.7 L994.8,744.6 L995.5,744.6 L996.2,744.5 L997.0,744.4 L997.8,744.4 L998.5,744.3 L999.2,744.3 L1000.0,744.2 L1000.8,744.2 L1001.5,744.1 L1002.2,744.0 L1003.0,744.0 L1003.8,743.9 L1004.5,743.9 L1005.2,743.8 L1006.0,743.8 L1006.8,743.7 L1007.5,743.6 L1008.2,743.6 L1009.0,743.5 L1009.8,743.5 L1010.5,743.4 L1011.2,743.4 L1012.0,743.3 L1012.8,743.2 L1013.5,743.2 L1014.2,743.1 L1015.0,743.1 L1015.8,743.0 L1016.5,743.0 L1017.2,742.9 L1018.0,742.8 L1018.8,742.8 L1019.5,742.7 L1020.2,742.7 L1021.0,742.6 L1021.8,742.6 L1022.5,742.5 L1023.2,742.4 L1024.0,742.4 L1024.8,742.3 L1025.5,742.3 L1026.2,742.2 L1027.0,742.2 L1027.8,742.1 L1028.5,742.0 L1029.2,742.0 L1030.0,741.9 L1030.8,741.9 L1031.5,741.8 L1032.2,741.8 L1033.0,741.7 L1033.8,741.6 L1034.5,741.6 L1035.2,741.5 L1036.0,741.5 L1036.8,741.4 L1037.5,741.4 L1038.2,741.3 L1038.3,741.3" fill="none" stroke="#70AD47" stroke-width="5.1" stroke-linejoin="round" stroke-linecap="round"/>
<line x1="146.6" y1="801.0500000000001" x2="1037.5" y2="801.0500000000001" stroke="#0a0a0a" stroke-width="2.2" opacity="0.62"/>
<line x1="146.6" y1="798.5" x2="392" y2="798.5" stroke="#303a40" stroke-width="2.9" opacity="0.24"/>
<text x="147.96" y="41.60" class="t" font-size="49" font-weight="bold" fill="#000000" textLength="26.20" lengthAdjust="spacingAndGlyphs">a</text>
<text x="1053.60" y="41.80" class="t" font-size="47" font-weight="bold" fill="#000000" textLength="31.55" lengthAdjust="spacingAndGlyphs">b</text>
<text x="100.00" y="810.70" class="t" font-size="32" font-weight="normal" fill="#595959" textLength="18.44" lengthAdjust="spacingAndGlyphs">0</text>
<text x="63.52" y="675.90" class="t" font-size="32" font-weight="normal" fill="#595959" textLength="55.01" lengthAdjust="spacingAndGlyphs">100</text>
<text x="62.94" y="541.10" class="t" font-size="32" font-weight="normal" fill="#595959" textLength="55.61" lengthAdjust="spacingAndGlyphs">200</text>
<text x="63.20" y="406.30" class="t" font-size="32" font-weight="normal" fill="#595959" textLength="55.34" lengthAdjust="spacingAndGlyphs">300</text>
<text x="63.73" y="271.50" class="t" font-size="32" font-weight="normal" fill="#595959" textLength="54.80" lengthAdjust="spacingAndGlyphs">400</text>
<text x="63.20" y="136.70" class="t" font-size="32" font-weight="normal" fill="#595959" textLength="55.34" lengthAdjust="spacingAndGlyphs">500</text>
<text x="141.16" y="855.80" class="t" font-size="30" font-weight="normal" fill="#333333" textLength="18.62" lengthAdjust="spacingAndGlyphs">0</text>
<text x="289.21" y="855.80" class="t" font-size="30" font-weight="normal" fill="#333333" textLength="18.62" lengthAdjust="spacingAndGlyphs">5</text>
<text x="426.99" y="855.80" class="t" font-size="30" font-weight="normal" fill="#333333" textLength="40.26" lengthAdjust="spacingAndGlyphs">10</text>
<text x="575.03" y="855.80" class="t" font-size="30" font-weight="normal" fill="#333333" textLength="40.26" lengthAdjust="spacingAndGlyphs">15</text>
<text x="723.63" y="855.80" class="t" font-size="30" font-weight="normal" fill="#333333" textLength="39.28" lengthAdjust="spacingAndGlyphs">20</text>
<text x="871.68" y="855.80" class="t" font-size="30" font-weight="normal" fill="#333333" textLength="39.28" lengthAdjust="spacingAndGlyphs">25</text>
<text x="1020.04" y="855.80" class="t" font-size="30" font-weight="normal" fill="#333333" textLength="38.96" lengthAdjust="spacingAndGlyphs">30</text>
<text x="465.09" y="906.00" class="t" font-size="38.5" font-weight="bold" fill="#7f7f7f" textLength="196.27" lengthAdjust="spacingAndGlyphs">Time (min)</text>
<g transform="translate(40.30,609.00) rotate(-90)"><text x="-1.02" y="0.00" class="t" font-size="37.5" font-weight="bold" fill="#7f7f7f" textLength="377.33" lengthAdjust="spacingAndGlyphs">Absorbance (210nm)</text></g>
<path d="M1054.7,57.2 H1373.6 V336.45 H1054.7 V57.2" fill="none" stroke="#0a0a0a" stroke-width="5.3" stroke-linejoin="round" stroke-linecap="square"/>
<line x1="1064.1" y1="328.8" x2="1373.0" y2="71.5" stroke="#5B9BD5" stroke-width="4.3" stroke-dasharray="0.01 11.4" stroke-linecap="round"/>
<circle cx="1064.8" cy="329.5" r="11.2" fill="#5B9BD5"/>
<circle cx="1075.1" cy="321.7" r="11.2" fill="#5B9BD5"/>
<circle cx="1093.6" cy="305.0" r="11.2" fill="#5B9BD5"/>
<circle cx="1133.4" cy="275.0" r="11.2" fill="#5B9BD5"/>
<circle cx="1213.4" cy="195.5" r="11.2" fill="#5B9BD5"/>
<circle cx="1372.8" cy="75.2" r="11.2" fill="#5B9BD5"/>
<text x="1067.60" y="105.80" class="t" font-size="28.3" font-weight="normal" fill="#595959" textLength="262.77" lengthAdjust="spacingAndGlyphs">y = 1913.1x - 185.21</text>
<text x="1123.58" y="143.50" class="t" font-size="27.5" font-weight="normal" fill="#595959" textLength="17.84" lengthAdjust="spacingAndGlyphs">R</text>
<text x="1141.36" y="133.80" class="t" font-size="16.5" font-weight="normal" fill="#595959" textLength="10.28" lengthAdjust="spacingAndGlyphs">2</text>
<text x="1156.69" y="143.50" class="t" font-size="28.3" font-weight="normal" fill="#595959" textLength="116.39" lengthAdjust="spacingAndGlyphs">= 0.9972</text>
<text x="1046.22" y="387.00" class="t" font-size="29.3" font-weight="normal" fill="#595959" textLength="17.58" lengthAdjust="spacingAndGlyphs">0</text>
<text x="1114.33" y="387.00" class="t" font-size="29.3" font-weight="normal" fill="#595959" textLength="41.29" lengthAdjust="spacingAndGlyphs">0.5</text>
<text x="1205.66" y="387.00" class="t" font-size="29.3" font-weight="normal" fill="#595959" textLength="16.53" lengthAdjust="spacingAndGlyphs">1</text>
<text x="1274.15" y="387.00" class="t" font-size="29.3" font-weight="normal" fill="#595959" textLength="39.84" lengthAdjust="spacingAndGlyphs">1.5</text>
<text x="1363.60" y="387.00" class="t" font-size="29.3" font-weight="normal" fill="#595959" textLength="18.41" lengthAdjust="spacingAndGlyphs">2</text>
<text x="1403.22" y="346.65" class="t" font-size="29.3" font-weight="normal" fill="#595959" textLength="17.58" lengthAdjust="spacingAndGlyphs">0</text>
<text x="1401.98" y="276.84" class="t" font-size="29.3" font-weight="normal" fill="#595959" textLength="33.59" lengthAdjust="spacingAndGlyphs">10</text>
<text x="1402.79" y="207.02" class="t" font-size="29.3" font-weight="normal" fill="#595959" textLength="32.75" lengthAdjust="spacingAndGlyphs">20</text>
<text x="1403.31" y="137.21" class="t" font-size="29.3" font-weight="normal" fill="#595959" textLength="32.21" lengthAdjust="spacingAndGlyphs">30</text>
<text x="1403.56" y="67.40" class="t" font-size="29.3" font-weight="normal" fill="#595959" textLength="31.95" lengthAdjust="spacingAndGlyphs">40</text>
<text x="1063.20" y="434.00" class="t" font-size="29" font-weight="normal" fill="#9c9c9c" textLength="286.70" lengthAdjust="spacingAndGlyphs">Concentration (mg mL</text>
<text x="1350.67" y="422.50" class="t" font-size="18" font-weight="normal" fill="#9c9c9c" textLength="17.66" lengthAdjust="spacingAndGlyphs">-1</text>
<text x="1369.21" y="434.00" class="t" font-size="29" font-weight="normal" fill="#9c9c9c" textLength="11.34" lengthAdjust="spacingAndGlyphs">)</text>
<g transform="translate(1476.90,367.00) rotate(-90)"><text x="0.00" y="0.00" class="t" font-size="29" font-weight="normal" fill="#9c9c9c" textLength="336.74" lengthAdjust="spacingAndGlyphs">Area Under Curve (÷1000)</text></g>
<line x1="1077.6" y1="518.6" x2="1153.0" y2="518.6" stroke="#5B9BD5" stroke-width="5.5" stroke-linecap="round"/>
<text x="1161.66" y="530.90" class="t" font-size="33.5" font-weight="normal" fill="#111111" textLength="189.57" lengthAdjust="spacingAndGlyphs">0.06 mg mL</text>
<text x="1348.73" y="519.50" class="t" font-size="29" font-weight="bold" fill="#111111" textLength="14.16" lengthAdjust="spacingAndGlyphs">-</text>
<text x="1364.02" y="517.70" class="t" font-size="21.5" font-weight="bold" fill="#111111" textLength="9.33" lengthAdjust="spacingAndGlyphs">1</text>
<line x1="1077.6" y1="569.6" x2="1153.0" y2="569.6" stroke="#ED7D31" stroke-width="5.5" stroke-linecap="round"/>
<text x="1161.66" y="581.90" class="t" font-size="33.5" font-weight="normal" fill="#111111" textLength="189.57" lengthAdjust="spacingAndGlyphs">0.12 mg mL</text>
<text x="1348.73" y="570.50" class="t" font-size="29" font-weight="bold" fill="#111111" textLength="14.16" lengthAdjust="spacingAndGlyphs">-</text>
<text x="1364.02" y="568.70" class="t" font-size="21.5" font-weight="bold" fill="#111111" textLength="9.33" lengthAdjust="spacingAndGlyphs">1</text>
<line x1="1077.6" y1="620.6" x2="1153.0" y2="620.6" stroke="#A5A5A5" stroke-width="5.5" stroke-linecap="round"/>
<text x="1161.66" y="632.90" class="t" font-size="33.5" font-weight="normal" fill="#111111" textLength="189.57" lengthAdjust="spacingAndGlyphs">0.25 mg mL</text>
<text x="1348.73" y="621.50" class="t" font-size="29" font-weight="bold" fill="#111111" textLength="14.16" lengthAdjust="spacingAndGlyphs">-</text>
<text x="1364.02" y="619.70" class="t" font-size="21.5" font-weight="bold" fill="#111111" textLength="9.33" lengthAdjust="spacingAndGlyphs">1</text>
<line x1="1077.6" y1="671.0" x2="1153.0" y2="671.0" stroke="#FFC000" stroke-width="5.5" stroke-linecap="round"/>
<text x="1161.66" y="683.30" class="t" font-size="33.5" font-weight="normal" fill="#111111" textLength="189.57" lengthAdjust="spacingAndGlyphs">0.50 mg mL</text>
<text x="1348.73" y="671.90" class="t" font-size="29" font-weight="bold" fill="#111111" textLength="14.16" lengthAdjust="spacingAndGlyphs">-</text>
<text x="1364.02" y="670.10" class="t" font-size="21.5" font-weight="bold" fill="#111111" textLength="9.33" lengthAdjust="spacingAndGlyphs">1</text>
<line x1="1077.6" y1="721.4" x2="1153.0" y2="721.4" stroke="#4472C4" stroke-width="5.5" stroke-linecap="round"/>
<text x="1162.13" y="733.70" class="t" font-size="33.5" font-weight="normal" fill="#111111" textLength="189.10" lengthAdjust="spacingAndGlyphs">1.00 mg mL</text>
<text x="1348.73" y="722.30" class="t" font-size="29" font-weight="bold" fill="#111111" textLength="14.16" lengthAdjust="spacingAndGlyphs">-</text>
<text x="1364.02" y="720.50" class="t" font-size="21.5" font-weight="bold" fill="#111111" textLength="9.33" lengthAdjust="spacingAndGlyphs">1</text>
<line x1="1077.6" y1="771.6" x2="1153.0" y2="771.6" stroke="#70AD47" stroke-width="5.5" stroke-linecap="round"/>
<text x="1161.12" y="783.90" class="t" font-size="33.5" font-weight="normal" fill="#111111" textLength="190.12" lengthAdjust="spacingAndGlyphs">2.00 mg mL</text>
<text x="1348.73" y="772.50" class="t" font-size="29" font-weight="bold" fill="#111111" textLength="14.16" lengthAdjust="spacingAndGlyphs">-</text>
<text x="1364.02" y="770.70" class="t" font-size="21.5" font-weight="bold" fill="#111111" textLength="9.33" lengthAdjust="spacingAndGlyphs">1</text>
</svg>
</body>
</html>
